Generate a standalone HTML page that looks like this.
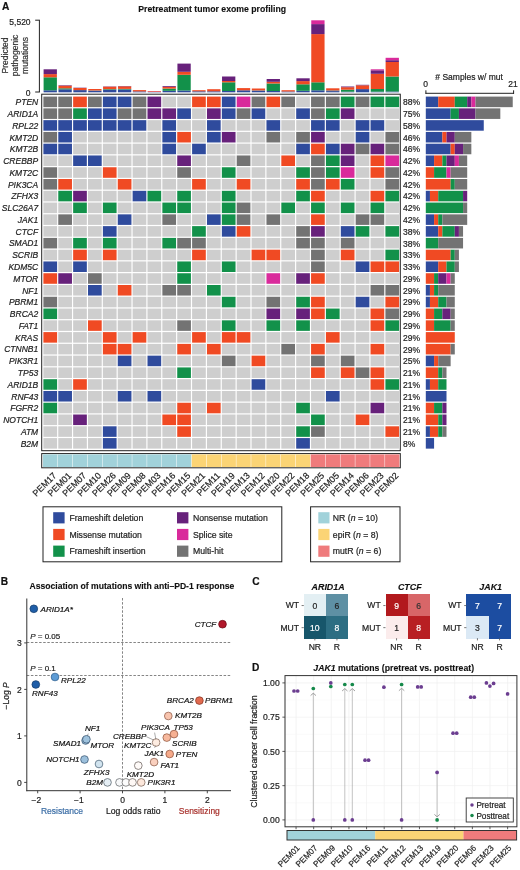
<!DOCTYPE html>
<html lang="en"><head><meta charset="utf-8"><title>Figure</title>
<style>
html,body{margin:0;padding:0;background:#fff;}
body{width:520px;height:870px;overflow:hidden;font-family:"Liberation Sans", sans-serif;}
svg{display:block;font-family:"Liberation Sans", sans-serif;}
</style></head><body>
<svg width="520" height="870" viewBox="0 0 520 870">
<rect x="0" y="0" width="520" height="870" fill="#ffffff"/>
<text x="2.10" y="9.85" font-size="10.2" text-anchor="start" fill="#111" stroke="#111" stroke-width="0.2" font-weight="bold" font-style="normal" >A</text>
<text x="212.20" y="12.30" font-size="8.7" text-anchor="middle" fill="#111" stroke="#111" stroke-width="0.12" font-weight="bold" font-style="normal" >Pretreatment tumor exome profiling</text>
<line x1="39.40" y1="20.20" x2="39.40" y2="92.00" stroke="#222" stroke-width="1" />
<line x1="35.20" y1="20.20" x2="39.90" y2="20.20" stroke="#222" stroke-width="1" />
<line x1="35.20" y1="92.00" x2="39.90" y2="92.00" stroke="#222" stroke-width="1" />
<text x="30.60" y="24.80" font-size="8.5" text-anchor="end" fill="#222" stroke="#222" stroke-width="0.2" font-weight="normal" font-style="normal" >5,520</text>
<text x="30.60" y="96.00" font-size="8.5" text-anchor="end" fill="#222" stroke="#222" stroke-width="0.2" font-weight="normal" font-style="normal" >0</text>
<text x="0.00" y="0.00" font-size="8.5" text-anchor="middle" fill="#333" stroke="#333" stroke-width="0.2" font-weight="normal" font-style="normal" transform="translate(8.2,55.5) rotate(-90)">Predicted</text>
<text x="0.00" y="0.00" font-size="8.5" text-anchor="middle" fill="#333" stroke="#333" stroke-width="0.2" font-weight="normal" font-style="normal" transform="translate(18.4,55.5) rotate(-90)">pathogenic</text>
<text x="0.00" y="0.00" font-size="8.5" text-anchor="middle" fill="#333" stroke="#333" stroke-width="0.2" font-weight="normal" font-style="normal" transform="translate(27.6,55.5) rotate(-90)">mutations</text>
<rect x="43.60" y="90.30" width="13.30" height="2.00" fill="#2f4b9d" />
<rect x="43.60" y="77.30" width="13.30" height="13.00" fill="#12914a" />
<rect x="43.60" y="74.10" width="13.30" height="3.20" fill="#f04a23" />
<rect x="43.60" y="69.30" width="13.30" height="4.80" fill="#67217b" />
<rect x="58.47" y="89.30" width="13.30" height="3.00" fill="#2f4b9d" />
<rect x="58.47" y="88.30" width="13.30" height="1.00" fill="#12914a" />
<rect x="58.47" y="85.70" width="13.30" height="2.60" fill="#f04a23" />
<rect x="58.47" y="85.20" width="13.30" height="0.50" fill="#67217b" />
<rect x="73.34" y="90.10" width="13.30" height="2.20" fill="#2f4b9d" />
<rect x="73.34" y="88.00" width="13.30" height="2.10" fill="#f04a23" />
<rect x="73.34" y="87.70" width="13.30" height="0.30" fill="#67217b" />
<rect x="88.21" y="90.90" width="13.30" height="1.40" fill="#2f4b9d" />
<rect x="88.21" y="90.40" width="13.30" height="0.50" fill="#737373" />
<rect x="88.21" y="89.00" width="13.30" height="1.40" fill="#f04a23" />
<rect x="103.08" y="89.70" width="13.30" height="2.60" fill="#2f4b9d" />
<rect x="103.08" y="89.10" width="13.30" height="0.60" fill="#12914a" />
<rect x="103.08" y="86.70" width="13.30" height="2.40" fill="#f04a23" />
<rect x="103.08" y="86.40" width="13.30" height="0.30" fill="#67217b" />
<rect x="117.95" y="89.50" width="13.30" height="2.80" fill="#2f4b9d" />
<rect x="117.95" y="88.90" width="13.30" height="0.60" fill="#12914a" />
<rect x="117.95" y="86.30" width="13.30" height="2.60" fill="#f04a23" />
<rect x="117.95" y="86.00" width="13.30" height="0.30" fill="#67217b" />
<rect x="132.82" y="91.40" width="13.30" height="0.90" fill="#2f4b9d" />
<rect x="132.82" y="90.10" width="13.30" height="1.30" fill="#f04a23" />
<rect x="147.69" y="91.90" width="13.30" height="0.40" fill="#2f4b9d" />
<rect x="147.69" y="91.20" width="13.30" height="0.70" fill="#f04a23" />
<rect x="147.69" y="91.00" width="13.30" height="0.20" fill="#d92a9b" />
<rect x="162.56" y="90.80" width="13.30" height="1.50" fill="#2f4b9d" />
<rect x="162.56" y="88.60" width="13.30" height="2.20" fill="#12914a" />
<rect x="162.56" y="86.80" width="13.30" height="1.80" fill="#f04a23" />
<rect x="162.56" y="86.00" width="13.30" height="0.80" fill="#67217b" />
<rect x="177.43" y="90.50" width="13.30" height="1.80" fill="#2f4b9d" />
<rect x="177.43" y="74.80" width="13.30" height="15.70" fill="#12914a" />
<rect x="177.43" y="71.80" width="13.30" height="3.00" fill="#f04a23" />
<rect x="177.43" y="63.60" width="13.30" height="8.20" fill="#67217b" />
<rect x="192.30" y="91.30" width="13.30" height="1.00" fill="#2f4b9d" />
<rect x="192.30" y="90.20" width="13.30" height="1.10" fill="#f04a23" />
<rect x="207.17" y="91.30" width="13.30" height="1.00" fill="#2f4b9d" />
<rect x="207.17" y="89.20" width="13.30" height="2.10" fill="#f04a23" />
<rect x="222.04" y="91.00" width="13.30" height="1.30" fill="#2f4b9d" />
<rect x="222.04" y="82.30" width="13.30" height="8.70" fill="#12914a" />
<rect x="222.04" y="81.00" width="13.30" height="1.30" fill="#f04a23" />
<rect x="222.04" y="76.50" width="13.30" height="4.50" fill="#67217b" />
<rect x="236.91" y="90.30" width="13.30" height="2.00" fill="#2f4b9d" />
<rect x="236.91" y="88.10" width="13.30" height="2.20" fill="#f04a23" />
<rect x="251.78" y="90.90" width="13.30" height="1.40" fill="#2f4b9d" />
<rect x="251.78" y="90.30" width="13.30" height="0.60" fill="#737373" />
<rect x="251.78" y="88.50" width="13.30" height="1.80" fill="#f04a23" />
<rect x="266.65" y="91.00" width="13.30" height="1.30" fill="#2f4b9d" />
<rect x="266.65" y="83.50" width="13.30" height="7.50" fill="#12914a" />
<rect x="266.65" y="81.80" width="13.30" height="1.70" fill="#f04a23" />
<rect x="266.65" y="79.00" width="13.30" height="2.80" fill="#67217b" />
<rect x="281.52" y="91.50" width="13.30" height="0.80" fill="#2f4b9d" />
<rect x="281.52" y="90.20" width="13.30" height="1.30" fill="#f04a23" />
<rect x="296.39" y="90.80" width="13.30" height="1.50" fill="#2f4b9d" />
<rect x="296.39" y="84.30" width="13.30" height="6.50" fill="#12914a" />
<rect x="296.39" y="81.10" width="13.30" height="3.20" fill="#f04a23" />
<rect x="296.39" y="78.30" width="13.30" height="2.80" fill="#67217b" />
<rect x="311.26" y="90.30" width="13.30" height="2.00" fill="#2f4b9d" />
<rect x="311.26" y="82.30" width="13.30" height="8.00" fill="#12914a" />
<rect x="311.26" y="34.10" width="13.30" height="48.20" fill="#f04a23" />
<rect x="311.26" y="24.10" width="13.30" height="10.00" fill="#67217b" />
<rect x="311.26" y="20.30" width="13.30" height="3.80" fill="#d92a9b" />
<rect x="326.13" y="91.10" width="13.30" height="1.20" fill="#2f4b9d" />
<rect x="326.13" y="90.30" width="13.30" height="0.80" fill="#737373" />
<rect x="326.13" y="88.30" width="13.30" height="2.00" fill="#f04a23" />
<rect x="341.00" y="91.70" width="13.30" height="0.60" fill="#2f4b9d" />
<rect x="341.00" y="89.70" width="13.30" height="2.00" fill="#12914a" />
<rect x="341.00" y="87.20" width="13.30" height="2.50" fill="#f04a23" />
<rect x="341.00" y="86.50" width="13.30" height="0.70" fill="#67217b" />
<rect x="355.87" y="89.10" width="13.30" height="3.20" fill="#2f4b9d" />
<rect x="355.87" y="85.30" width="13.30" height="3.80" fill="#f04a23" />
<rect x="355.87" y="84.80" width="13.30" height="0.50" fill="#67217b" />
<rect x="370.74" y="91.70" width="13.30" height="0.60" fill="#2f4b9d" />
<rect x="370.74" y="89.00" width="13.30" height="2.70" fill="#12914a" />
<rect x="370.74" y="73.80" width="13.30" height="15.20" fill="#f04a23" />
<rect x="370.74" y="70.30" width="13.30" height="3.50" fill="#67217b" />
<rect x="370.74" y="69.30" width="13.30" height="1.00" fill="#d92a9b" />
<rect x="385.61" y="91.50" width="13.30" height="0.80" fill="#2f4b9d" />
<rect x="385.61" y="76.50" width="13.30" height="15.00" fill="#12914a" />
<rect x="385.61" y="62.00" width="13.30" height="14.50" fill="#f04a23" />
<rect x="385.61" y="60.20" width="13.30" height="1.80" fill="#67217b" />
<rect x="385.61" y="57.80" width="13.30" height="2.40" fill="#d92a9b" />
<rect x="41.70" y="94.20" width="358.60" height="356.50" fill="#fff" stroke="#222" stroke-width="1"/>
<text x="38.20" y="105.17" font-size="8.5" text-anchor="end" fill="#222" stroke="#222" stroke-width="0.2" font-weight="normal" font-style="italic" >PTEN</text>
<text x="403.00" y="105.28" font-size="8.5" text-anchor="start" fill="#222" stroke="#222" stroke-width="0.2" font-weight="normal" font-style="normal" >88%</text>
<rect x="43.40" y="96.60" width="13.70" height="10.55" fill="#737373" />
<rect x="58.27" y="96.60" width="13.70" height="10.55" fill="#737373" />
<rect x="73.14" y="96.60" width="13.70" height="10.55" fill="#f04a23" />
<rect x="88.01" y="96.60" width="13.70" height="10.55" fill="#737373" />
<rect x="102.88" y="96.60" width="13.70" height="10.55" fill="#2f4b9d" />
<rect x="117.75" y="96.60" width="13.70" height="10.55" fill="#2f4b9d" />
<rect x="132.62" y="96.60" width="13.70" height="10.55" fill="#737373" />
<rect x="147.49" y="96.60" width="13.70" height="10.55" fill="#67217b" />
<rect x="162.36" y="96.60" width="13.70" height="10.55" fill="#cecece" />
<rect x="177.23" y="96.60" width="13.70" height="10.55" fill="#cecece" />
<rect x="192.10" y="96.60" width="13.70" height="10.55" fill="#f04a23" />
<rect x="206.97" y="96.60" width="13.70" height="10.55" fill="#f04a23" />
<rect x="221.84" y="96.60" width="13.70" height="10.55" fill="#2f4b9d" />
<rect x="236.71" y="96.60" width="13.70" height="10.55" fill="#d92a9b" />
<rect x="251.58" y="96.60" width="13.70" height="10.55" fill="#737373" />
<rect x="266.45" y="96.60" width="13.70" height="10.55" fill="#f04a23" />
<rect x="281.32" y="96.60" width="13.70" height="10.55" fill="#737373" />
<rect x="296.19" y="96.60" width="13.70" height="10.55" fill="#cecece" />
<rect x="311.06" y="96.60" width="13.70" height="10.55" fill="#737373" />
<rect x="325.93" y="96.60" width="13.70" height="10.55" fill="#737373" />
<rect x="340.80" y="96.60" width="13.70" height="10.55" fill="#12914a" />
<rect x="355.67" y="96.60" width="13.70" height="10.55" fill="#737373" />
<rect x="370.54" y="96.60" width="13.70" height="10.55" fill="#12914a" />
<rect x="385.41" y="96.60" width="13.70" height="10.55" fill="#12914a" />
<rect x="425.80" y="96.60" width="12.42" height="10.55" fill="#2f4b9d" />
<rect x="438.22" y="96.60" width="16.56" height="10.55" fill="#f04a23" />
<rect x="454.78" y="96.60" width="12.42" height="10.55" fill="#12914a" />
<rect x="467.20" y="96.60" width="4.14" height="10.55" fill="#67217b" />
<rect x="471.34" y="96.60" width="4.14" height="10.55" fill="#d92a9b" />
<rect x="475.48" y="96.60" width="37.26" height="10.55" fill="#737373" />
<text x="38.20" y="116.95" font-size="8.5" text-anchor="end" fill="#222" stroke="#222" stroke-width="0.2" font-weight="normal" font-style="italic" >ARID1A</text>
<text x="403.00" y="117.05" font-size="8.5" text-anchor="start" fill="#222" stroke="#222" stroke-width="0.2" font-weight="normal" font-style="normal" >75%</text>
<rect x="43.40" y="108.38" width="13.70" height="10.55" fill="#737373" />
<rect x="58.27" y="108.38" width="13.70" height="10.55" fill="#737373" />
<rect x="73.14" y="108.38" width="13.70" height="10.55" fill="#12914a" />
<rect x="88.01" y="108.38" width="13.70" height="10.55" fill="#2f4b9d" />
<rect x="102.88" y="108.38" width="13.70" height="10.55" fill="#2f4b9d" />
<rect x="117.75" y="108.38" width="13.70" height="10.55" fill="#737373" />
<rect x="132.62" y="108.38" width="13.70" height="10.55" fill="#737373" />
<rect x="147.49" y="108.38" width="13.70" height="10.55" fill="#67217b" />
<rect x="162.36" y="108.38" width="13.70" height="10.55" fill="#67217b" />
<rect x="177.23" y="108.38" width="13.70" height="10.55" fill="#2f4b9d" />
<rect x="192.10" y="108.38" width="13.70" height="10.55" fill="#cecece" />
<rect x="206.97" y="108.38" width="13.70" height="10.55" fill="#67217b" />
<rect x="221.84" y="108.38" width="13.70" height="10.55" fill="#2f4b9d" />
<rect x="236.71" y="108.38" width="13.70" height="10.55" fill="#737373" />
<rect x="251.58" y="108.38" width="13.70" height="10.55" fill="#2f4b9d" />
<rect x="266.45" y="108.38" width="13.70" height="10.55" fill="#cecece" />
<rect x="281.32" y="108.38" width="13.70" height="10.55" fill="#cecece" />
<rect x="296.19" y="108.38" width="13.70" height="10.55" fill="#2f4b9d" />
<rect x="311.06" y="108.38" width="13.70" height="10.55" fill="#737373" />
<rect x="325.93" y="108.38" width="13.70" height="10.55" fill="#12914a" />
<rect x="340.80" y="108.38" width="13.70" height="10.55" fill="#67217b" />
<rect x="355.67" y="108.38" width="13.70" height="10.55" fill="#cecece" />
<rect x="370.54" y="108.38" width="13.70" height="10.55" fill="#cecece" />
<rect x="385.41" y="108.38" width="13.70" height="10.55" fill="#cecece" />
<rect x="425.80" y="108.38" width="24.84" height="10.55" fill="#2f4b9d" />
<rect x="450.64" y="108.38" width="8.28" height="10.55" fill="#12914a" />
<rect x="458.92" y="108.38" width="16.56" height="10.55" fill="#67217b" />
<rect x="475.48" y="108.38" width="24.84" height="10.55" fill="#737373" />
<text x="38.20" y="128.72" font-size="8.5" text-anchor="end" fill="#222" stroke="#222" stroke-width="0.2" font-weight="normal" font-style="italic" >RPL22</text>
<text x="403.00" y="128.82" font-size="8.5" text-anchor="start" fill="#222" stroke="#222" stroke-width="0.2" font-weight="normal" font-style="normal" >58%</text>
<rect x="43.40" y="120.15" width="13.70" height="10.55" fill="#2f4b9d" />
<rect x="58.27" y="120.15" width="13.70" height="10.55" fill="#2f4b9d" />
<rect x="73.14" y="120.15" width="13.70" height="10.55" fill="#2f4b9d" />
<rect x="88.01" y="120.15" width="13.70" height="10.55" fill="#2f4b9d" />
<rect x="102.88" y="120.15" width="13.70" height="10.55" fill="#2f4b9d" />
<rect x="117.75" y="120.15" width="13.70" height="10.55" fill="#2f4b9d" />
<rect x="132.62" y="120.15" width="13.70" height="10.55" fill="#2f4b9d" />
<rect x="147.49" y="120.15" width="13.70" height="10.55" fill="#cecece" />
<rect x="162.36" y="120.15" width="13.70" height="10.55" fill="#2f4b9d" />
<rect x="177.23" y="120.15" width="13.70" height="10.55" fill="#cecece" />
<rect x="192.10" y="120.15" width="13.70" height="10.55" fill="#cecece" />
<rect x="206.97" y="120.15" width="13.70" height="10.55" fill="#2f4b9d" />
<rect x="221.84" y="120.15" width="13.70" height="10.55" fill="#cecece" />
<rect x="236.71" y="120.15" width="13.70" height="10.55" fill="#cecece" />
<rect x="251.58" y="120.15" width="13.70" height="10.55" fill="#cecece" />
<rect x="266.45" y="120.15" width="13.70" height="10.55" fill="#2f4b9d" />
<rect x="281.32" y="120.15" width="13.70" height="10.55" fill="#cecece" />
<rect x="296.19" y="120.15" width="13.70" height="10.55" fill="#cecece" />
<rect x="311.06" y="120.15" width="13.70" height="10.55" fill="#2f4b9d" />
<rect x="325.93" y="120.15" width="13.70" height="10.55" fill="#2f4b9d" />
<rect x="340.80" y="120.15" width="13.70" height="10.55" fill="#cecece" />
<rect x="355.67" y="120.15" width="13.70" height="10.55" fill="#2f4b9d" />
<rect x="370.54" y="120.15" width="13.70" height="10.55" fill="#2f4b9d" />
<rect x="385.41" y="120.15" width="13.70" height="10.55" fill="#cecece" />
<rect x="425.80" y="120.15" width="57.96" height="10.55" fill="#2f4b9d" />
<text x="38.20" y="140.50" font-size="8.5" text-anchor="end" fill="#222" stroke="#222" stroke-width="0.2" font-weight="normal" font-style="italic" >KMT2D</text>
<text x="403.00" y="140.60" font-size="8.5" text-anchor="start" fill="#222" stroke="#222" stroke-width="0.2" font-weight="normal" font-style="normal" >46%</text>
<rect x="43.40" y="131.93" width="13.70" height="10.55" fill="#737373" />
<rect x="58.27" y="131.93" width="13.70" height="10.55" fill="#2f4b9d" />
<rect x="73.14" y="131.93" width="13.70" height="10.55" fill="#cecece" />
<rect x="88.01" y="131.93" width="13.70" height="10.55" fill="#cecece" />
<rect x="102.88" y="131.93" width="13.70" height="10.55" fill="#cecece" />
<rect x="117.75" y="131.93" width="13.70" height="10.55" fill="#cecece" />
<rect x="132.62" y="131.93" width="13.70" height="10.55" fill="#cecece" />
<rect x="147.49" y="131.93" width="13.70" height="10.55" fill="#cecece" />
<rect x="162.36" y="131.93" width="13.70" height="10.55" fill="#2f4b9d" />
<rect x="177.23" y="131.93" width="13.70" height="10.55" fill="#f04a23" />
<rect x="192.10" y="131.93" width="13.70" height="10.55" fill="#cecece" />
<rect x="206.97" y="131.93" width="13.70" height="10.55" fill="#2f4b9d" />
<rect x="221.84" y="131.93" width="13.70" height="10.55" fill="#67217b" />
<rect x="236.71" y="131.93" width="13.70" height="10.55" fill="#cecece" />
<rect x="251.58" y="131.93" width="13.70" height="10.55" fill="#cecece" />
<rect x="266.45" y="131.93" width="13.70" height="10.55" fill="#737373" />
<rect x="281.32" y="131.93" width="13.70" height="10.55" fill="#cecece" />
<rect x="296.19" y="131.93" width="13.70" height="10.55" fill="#737373" />
<rect x="311.06" y="131.93" width="13.70" height="10.55" fill="#67217b" />
<rect x="325.93" y="131.93" width="13.70" height="10.55" fill="#cecece" />
<rect x="340.80" y="131.93" width="13.70" height="10.55" fill="#cecece" />
<rect x="355.67" y="131.93" width="13.70" height="10.55" fill="#2f4b9d" />
<rect x="370.54" y="131.93" width="13.70" height="10.55" fill="#cecece" />
<rect x="385.41" y="131.93" width="13.70" height="10.55" fill="#737373" />
<rect x="425.80" y="131.93" width="16.56" height="10.55" fill="#2f4b9d" />
<rect x="442.36" y="131.93" width="4.14" height="10.55" fill="#f04a23" />
<rect x="446.50" y="131.93" width="8.28" height="10.55" fill="#67217b" />
<rect x="454.78" y="131.93" width="16.56" height="10.55" fill="#737373" />
<text x="38.20" y="152.28" font-size="8.5" text-anchor="end" fill="#222" stroke="#222" stroke-width="0.2" font-weight="normal" font-style="italic" >KMT2B</text>
<text x="403.00" y="152.38" font-size="8.5" text-anchor="start" fill="#222" stroke="#222" stroke-width="0.2" font-weight="normal" font-style="normal" >46%</text>
<rect x="43.40" y="143.70" width="13.70" height="10.55" fill="#2f4b9d" />
<rect x="58.27" y="143.70" width="13.70" height="10.55" fill="#2f4b9d" />
<rect x="73.14" y="143.70" width="13.70" height="10.55" fill="#cecece" />
<rect x="88.01" y="143.70" width="13.70" height="10.55" fill="#cecece" />
<rect x="102.88" y="143.70" width="13.70" height="10.55" fill="#cecece" />
<rect x="117.75" y="143.70" width="13.70" height="10.55" fill="#cecece" />
<rect x="132.62" y="143.70" width="13.70" height="10.55" fill="#cecece" />
<rect x="147.49" y="143.70" width="13.70" height="10.55" fill="#cecece" />
<rect x="162.36" y="143.70" width="13.70" height="10.55" fill="#2f4b9d" />
<rect x="177.23" y="143.70" width="13.70" height="10.55" fill="#cecece" />
<rect x="192.10" y="143.70" width="13.70" height="10.55" fill="#2f4b9d" />
<rect x="206.97" y="143.70" width="13.70" height="10.55" fill="#cecece" />
<rect x="221.84" y="143.70" width="13.70" height="10.55" fill="#cecece" />
<rect x="236.71" y="143.70" width="13.70" height="10.55" fill="#cecece" />
<rect x="251.58" y="143.70" width="13.70" height="10.55" fill="#cecece" />
<rect x="266.45" y="143.70" width="13.70" height="10.55" fill="#cecece" />
<rect x="281.32" y="143.70" width="13.70" height="10.55" fill="#cecece" />
<rect x="296.19" y="143.70" width="13.70" height="10.55" fill="#2f4b9d" />
<rect x="311.06" y="143.70" width="13.70" height="10.55" fill="#f04a23" />
<rect x="325.93" y="143.70" width="13.70" height="10.55" fill="#2f4b9d" />
<rect x="340.80" y="143.70" width="13.70" height="10.55" fill="#67217b" />
<rect x="355.67" y="143.70" width="13.70" height="10.55" fill="#737373" />
<rect x="370.54" y="143.70" width="13.70" height="10.55" fill="#67217b" />
<rect x="385.41" y="143.70" width="13.70" height="10.55" fill="#737373" />
<rect x="425.80" y="143.70" width="24.84" height="10.55" fill="#2f4b9d" />
<rect x="450.64" y="143.70" width="4.14" height="10.55" fill="#f04a23" />
<rect x="454.78" y="143.70" width="8.28" height="10.55" fill="#67217b" />
<rect x="463.06" y="143.70" width="8.28" height="10.55" fill="#737373" />
<text x="38.20" y="164.05" font-size="8.5" text-anchor="end" fill="#222" stroke="#222" stroke-width="0.2" font-weight="normal" font-style="italic" >CREBBP</text>
<text x="403.00" y="164.15" font-size="8.5" text-anchor="start" fill="#222" stroke="#222" stroke-width="0.2" font-weight="normal" font-style="normal" >42%</text>
<rect x="43.40" y="155.47" width="13.70" height="10.55" fill="#cecece" />
<rect x="58.27" y="155.47" width="13.70" height="10.55" fill="#cecece" />
<rect x="73.14" y="155.47" width="13.70" height="10.55" fill="#2f4b9d" />
<rect x="88.01" y="155.47" width="13.70" height="10.55" fill="#2f4b9d" />
<rect x="102.88" y="155.47" width="13.70" height="10.55" fill="#cecece" />
<rect x="117.75" y="155.47" width="13.70" height="10.55" fill="#cecece" />
<rect x="132.62" y="155.47" width="13.70" height="10.55" fill="#cecece" />
<rect x="147.49" y="155.47" width="13.70" height="10.55" fill="#cecece" />
<rect x="162.36" y="155.47" width="13.70" height="10.55" fill="#cecece" />
<rect x="177.23" y="155.47" width="13.70" height="10.55" fill="#67217b" />
<rect x="192.10" y="155.47" width="13.70" height="10.55" fill="#cecece" />
<rect x="206.97" y="155.47" width="13.70" height="10.55" fill="#cecece" />
<rect x="221.84" y="155.47" width="13.70" height="10.55" fill="#cecece" />
<rect x="236.71" y="155.47" width="13.70" height="10.55" fill="#737373" />
<rect x="251.58" y="155.47" width="13.70" height="10.55" fill="#cecece" />
<rect x="266.45" y="155.47" width="13.70" height="10.55" fill="#cecece" />
<rect x="281.32" y="155.47" width="13.70" height="10.55" fill="#f04a23" />
<rect x="296.19" y="155.47" width="13.70" height="10.55" fill="#cecece" />
<rect x="311.06" y="155.47" width="13.70" height="10.55" fill="#737373" />
<rect x="325.93" y="155.47" width="13.70" height="10.55" fill="#12914a" />
<rect x="340.80" y="155.47" width="13.70" height="10.55" fill="#67217b" />
<rect x="355.67" y="155.47" width="13.70" height="10.55" fill="#cecece" />
<rect x="370.54" y="155.47" width="13.70" height="10.55" fill="#f04a23" />
<rect x="385.41" y="155.47" width="13.70" height="10.55" fill="#d92a9b" />
<rect x="425.80" y="155.47" width="8.28" height="10.55" fill="#2f4b9d" />
<rect x="434.08" y="155.47" width="8.28" height="10.55" fill="#f04a23" />
<rect x="442.36" y="155.47" width="4.14" height="10.55" fill="#12914a" />
<rect x="446.50" y="155.47" width="8.28" height="10.55" fill="#67217b" />
<rect x="454.78" y="155.47" width="4.14" height="10.55" fill="#d92a9b" />
<rect x="458.92" y="155.47" width="8.28" height="10.55" fill="#737373" />
<text x="38.20" y="175.83" font-size="8.5" text-anchor="end" fill="#222" stroke="#222" stroke-width="0.2" font-weight="normal" font-style="italic" >KMT2C</text>
<text x="403.00" y="175.93" font-size="8.5" text-anchor="start" fill="#222" stroke="#222" stroke-width="0.2" font-weight="normal" font-style="normal" >42%</text>
<rect x="43.40" y="167.25" width="13.70" height="10.55" fill="#737373" />
<rect x="58.27" y="167.25" width="13.70" height="10.55" fill="#cecece" />
<rect x="73.14" y="167.25" width="13.70" height="10.55" fill="#cecece" />
<rect x="88.01" y="167.25" width="13.70" height="10.55" fill="#cecece" />
<rect x="102.88" y="167.25" width="13.70" height="10.55" fill="#f04a23" />
<rect x="117.75" y="167.25" width="13.70" height="10.55" fill="#cecece" />
<rect x="132.62" y="167.25" width="13.70" height="10.55" fill="#cecece" />
<rect x="147.49" y="167.25" width="13.70" height="10.55" fill="#cecece" />
<rect x="162.36" y="167.25" width="13.70" height="10.55" fill="#cecece" />
<rect x="177.23" y="167.25" width="13.70" height="10.55" fill="#737373" />
<rect x="192.10" y="167.25" width="13.70" height="10.55" fill="#cecece" />
<rect x="206.97" y="167.25" width="13.70" height="10.55" fill="#cecece" />
<rect x="221.84" y="167.25" width="13.70" height="10.55" fill="#12914a" />
<rect x="236.71" y="167.25" width="13.70" height="10.55" fill="#cecece" />
<rect x="251.58" y="167.25" width="13.70" height="10.55" fill="#cecece" />
<rect x="266.45" y="167.25" width="13.70" height="10.55" fill="#cecece" />
<rect x="281.32" y="167.25" width="13.70" height="10.55" fill="#cecece" />
<rect x="296.19" y="167.25" width="13.70" height="10.55" fill="#12914a" />
<rect x="311.06" y="167.25" width="13.70" height="10.55" fill="#737373" />
<rect x="325.93" y="167.25" width="13.70" height="10.55" fill="#12914a" />
<rect x="340.80" y="167.25" width="13.70" height="10.55" fill="#d92a9b" />
<rect x="355.67" y="167.25" width="13.70" height="10.55" fill="#cecece" />
<rect x="370.54" y="167.25" width="13.70" height="10.55" fill="#f04a23" />
<rect x="385.41" y="167.25" width="13.70" height="10.55" fill="#737373" />
<rect x="425.80" y="167.25" width="8.28" height="10.55" fill="#f04a23" />
<rect x="434.08" y="167.25" width="12.42" height="10.55" fill="#12914a" />
<rect x="446.50" y="167.25" width="4.14" height="10.55" fill="#d92a9b" />
<rect x="450.64" y="167.25" width="16.56" height="10.55" fill="#737373" />
<text x="38.20" y="187.60" font-size="8.5" text-anchor="end" fill="#222" stroke="#222" stroke-width="0.2" font-weight="normal" font-style="italic" >PIK3CA</text>
<text x="403.00" y="187.70" font-size="8.5" text-anchor="start" fill="#222" stroke="#222" stroke-width="0.2" font-weight="normal" font-style="normal" >42%</text>
<rect x="43.40" y="179.02" width="13.70" height="10.55" fill="#737373" />
<rect x="58.27" y="179.02" width="13.70" height="10.55" fill="#f04a23" />
<rect x="73.14" y="179.02" width="13.70" height="10.55" fill="#cecece" />
<rect x="88.01" y="179.02" width="13.70" height="10.55" fill="#cecece" />
<rect x="102.88" y="179.02" width="13.70" height="10.55" fill="#cecece" />
<rect x="117.75" y="179.02" width="13.70" height="10.55" fill="#f04a23" />
<rect x="132.62" y="179.02" width="13.70" height="10.55" fill="#cecece" />
<rect x="147.49" y="179.02" width="13.70" height="10.55" fill="#cecece" />
<rect x="162.36" y="179.02" width="13.70" height="10.55" fill="#cecece" />
<rect x="177.23" y="179.02" width="13.70" height="10.55" fill="#cecece" />
<rect x="192.10" y="179.02" width="13.70" height="10.55" fill="#f04a23" />
<rect x="206.97" y="179.02" width="13.70" height="10.55" fill="#cecece" />
<rect x="221.84" y="179.02" width="13.70" height="10.55" fill="#cecece" />
<rect x="236.71" y="179.02" width="13.70" height="10.55" fill="#f04a23" />
<rect x="251.58" y="179.02" width="13.70" height="10.55" fill="#cecece" />
<rect x="266.45" y="179.02" width="13.70" height="10.55" fill="#cecece" />
<rect x="281.32" y="179.02" width="13.70" height="10.55" fill="#cecece" />
<rect x="296.19" y="179.02" width="13.70" height="10.55" fill="#f04a23" />
<rect x="311.06" y="179.02" width="13.70" height="10.55" fill="#737373" />
<rect x="325.93" y="179.02" width="13.70" height="10.55" fill="#f04a23" />
<rect x="340.80" y="179.02" width="13.70" height="10.55" fill="#12914a" />
<rect x="355.67" y="179.02" width="13.70" height="10.55" fill="#cecece" />
<rect x="370.54" y="179.02" width="13.70" height="10.55" fill="#cecece" />
<rect x="385.41" y="179.02" width="13.70" height="10.55" fill="#737373" />
<rect x="425.80" y="179.02" width="24.84" height="10.55" fill="#f04a23" />
<rect x="450.64" y="179.02" width="4.14" height="10.55" fill="#12914a" />
<rect x="454.78" y="179.02" width="12.42" height="10.55" fill="#737373" />
<text x="38.20" y="199.38" font-size="8.5" text-anchor="end" fill="#222" stroke="#222" stroke-width="0.2" font-weight="normal" font-style="italic" >ZFHX3</text>
<text x="403.00" y="199.48" font-size="8.5" text-anchor="start" fill="#222" stroke="#222" stroke-width="0.2" font-weight="normal" font-style="normal" >42%</text>
<rect x="43.40" y="190.80" width="13.70" height="10.55" fill="#cecece" />
<rect x="58.27" y="190.80" width="13.70" height="10.55" fill="#12914a" />
<rect x="73.14" y="190.80" width="13.70" height="10.55" fill="#67217b" />
<rect x="88.01" y="190.80" width="13.70" height="10.55" fill="#cecece" />
<rect x="102.88" y="190.80" width="13.70" height="10.55" fill="#cecece" />
<rect x="117.75" y="190.80" width="13.70" height="10.55" fill="#cecece" />
<rect x="132.62" y="190.80" width="13.70" height="10.55" fill="#2f4b9d" />
<rect x="147.49" y="190.80" width="13.70" height="10.55" fill="#12914a" />
<rect x="162.36" y="190.80" width="13.70" height="10.55" fill="#cecece" />
<rect x="177.23" y="190.80" width="13.70" height="10.55" fill="#12914a" />
<rect x="192.10" y="190.80" width="13.70" height="10.55" fill="#cecece" />
<rect x="206.97" y="190.80" width="13.70" height="10.55" fill="#cecece" />
<rect x="221.84" y="190.80" width="13.70" height="10.55" fill="#12914a" />
<rect x="236.71" y="190.80" width="13.70" height="10.55" fill="#cecece" />
<rect x="251.58" y="190.80" width="13.70" height="10.55" fill="#cecece" />
<rect x="266.45" y="190.80" width="13.70" height="10.55" fill="#cecece" />
<rect x="281.32" y="190.80" width="13.70" height="10.55" fill="#cecece" />
<rect x="296.19" y="190.80" width="13.70" height="10.55" fill="#12914a" />
<rect x="311.06" y="190.80" width="13.70" height="10.55" fill="#f04a23" />
<rect x="325.93" y="190.80" width="13.70" height="10.55" fill="#cecece" />
<rect x="340.80" y="190.80" width="13.70" height="10.55" fill="#cecece" />
<rect x="355.67" y="190.80" width="13.70" height="10.55" fill="#cecece" />
<rect x="370.54" y="190.80" width="13.70" height="10.55" fill="#f04a23" />
<rect x="385.41" y="190.80" width="13.70" height="10.55" fill="#12914a" />
<rect x="425.80" y="190.80" width="4.14" height="10.55" fill="#2f4b9d" />
<rect x="429.94" y="190.80" width="8.28" height="10.55" fill="#f04a23" />
<rect x="438.22" y="190.80" width="24.84" height="10.55" fill="#12914a" />
<rect x="463.06" y="190.80" width="4.14" height="10.55" fill="#67217b" />
<text x="38.20" y="211.15" font-size="8.5" text-anchor="end" fill="#222" stroke="#222" stroke-width="0.2" font-weight="normal" font-style="italic" >SLC26A7</text>
<text x="403.00" y="211.25" font-size="8.5" text-anchor="start" fill="#222" stroke="#222" stroke-width="0.2" font-weight="normal" font-style="normal" >42%</text>
<rect x="43.40" y="202.57" width="13.70" height="10.55" fill="#cecece" />
<rect x="58.27" y="202.57" width="13.70" height="10.55" fill="#cecece" />
<rect x="73.14" y="202.57" width="13.70" height="10.55" fill="#12914a" />
<rect x="88.01" y="202.57" width="13.70" height="10.55" fill="#cecece" />
<rect x="102.88" y="202.57" width="13.70" height="10.55" fill="#12914a" />
<rect x="117.75" y="202.57" width="13.70" height="10.55" fill="#cecece" />
<rect x="132.62" y="202.57" width="13.70" height="10.55" fill="#cecece" />
<rect x="147.49" y="202.57" width="13.70" height="10.55" fill="#cecece" />
<rect x="162.36" y="202.57" width="13.70" height="10.55" fill="#12914a" />
<rect x="177.23" y="202.57" width="13.70" height="10.55" fill="#12914a" />
<rect x="192.10" y="202.57" width="13.70" height="10.55" fill="#cecece" />
<rect x="206.97" y="202.57" width="13.70" height="10.55" fill="#cecece" />
<rect x="221.84" y="202.57" width="13.70" height="10.55" fill="#12914a" />
<rect x="236.71" y="202.57" width="13.70" height="10.55" fill="#737373" />
<rect x="251.58" y="202.57" width="13.70" height="10.55" fill="#cecece" />
<rect x="266.45" y="202.57" width="13.70" height="10.55" fill="#cecece" />
<rect x="281.32" y="202.57" width="13.70" height="10.55" fill="#12914a" />
<rect x="296.19" y="202.57" width="13.70" height="10.55" fill="#cecece" />
<rect x="311.06" y="202.57" width="13.70" height="10.55" fill="#12914a" />
<rect x="325.93" y="202.57" width="13.70" height="10.55" fill="#cecece" />
<rect x="340.80" y="202.57" width="13.70" height="10.55" fill="#12914a" />
<rect x="355.67" y="202.57" width="13.70" height="10.55" fill="#cecece" />
<rect x="370.54" y="202.57" width="13.70" height="10.55" fill="#12914a" />
<rect x="385.41" y="202.57" width="13.70" height="10.55" fill="#cecece" />
<rect x="425.80" y="202.57" width="37.26" height="10.55" fill="#12914a" />
<rect x="463.06" y="202.57" width="4.14" height="10.55" fill="#737373" />
<text x="38.20" y="222.93" font-size="8.5" text-anchor="end" fill="#222" stroke="#222" stroke-width="0.2" font-weight="normal" font-style="italic" >JAK1</text>
<text x="403.00" y="223.03" font-size="8.5" text-anchor="start" fill="#222" stroke="#222" stroke-width="0.2" font-weight="normal" font-style="normal" >42%</text>
<rect x="43.40" y="214.35" width="13.70" height="10.55" fill="#cecece" />
<rect x="58.27" y="214.35" width="13.70" height="10.55" fill="#737373" />
<rect x="73.14" y="214.35" width="13.70" height="10.55" fill="#cecece" />
<rect x="88.01" y="214.35" width="13.70" height="10.55" fill="#cecece" />
<rect x="102.88" y="214.35" width="13.70" height="10.55" fill="#cecece" />
<rect x="117.75" y="214.35" width="13.70" height="10.55" fill="#2f4b9d" />
<rect x="132.62" y="214.35" width="13.70" height="10.55" fill="#cecece" />
<rect x="147.49" y="214.35" width="13.70" height="10.55" fill="#cecece" />
<rect x="162.36" y="214.35" width="13.70" height="10.55" fill="#737373" />
<rect x="177.23" y="214.35" width="13.70" height="10.55" fill="#cecece" />
<rect x="192.10" y="214.35" width="13.70" height="10.55" fill="#cecece" />
<rect x="206.97" y="214.35" width="13.70" height="10.55" fill="#2f4b9d" />
<rect x="221.84" y="214.35" width="13.70" height="10.55" fill="#12914a" />
<rect x="236.71" y="214.35" width="13.70" height="10.55" fill="#737373" />
<rect x="251.58" y="214.35" width="13.70" height="10.55" fill="#cecece" />
<rect x="266.45" y="214.35" width="13.70" height="10.55" fill="#737373" />
<rect x="281.32" y="214.35" width="13.70" height="10.55" fill="#cecece" />
<rect x="296.19" y="214.35" width="13.70" height="10.55" fill="#cecece" />
<rect x="311.06" y="214.35" width="13.70" height="10.55" fill="#f04a23" />
<rect x="325.93" y="214.35" width="13.70" height="10.55" fill="#cecece" />
<rect x="340.80" y="214.35" width="13.70" height="10.55" fill="#cecece" />
<rect x="355.67" y="214.35" width="13.70" height="10.55" fill="#737373" />
<rect x="370.54" y="214.35" width="13.70" height="10.55" fill="#737373" />
<rect x="385.41" y="214.35" width="13.70" height="10.55" fill="#cecece" />
<rect x="425.80" y="214.35" width="8.28" height="10.55" fill="#2f4b9d" />
<rect x="434.08" y="214.35" width="4.14" height="10.55" fill="#f04a23" />
<rect x="438.22" y="214.35" width="4.14" height="10.55" fill="#12914a" />
<rect x="442.36" y="214.35" width="24.84" height="10.55" fill="#737373" />
<text x="38.20" y="234.70" font-size="8.5" text-anchor="end" fill="#222" stroke="#222" stroke-width="0.2" font-weight="normal" font-style="italic" >CTCF</text>
<text x="403.00" y="234.80" font-size="8.5" text-anchor="start" fill="#222" stroke="#222" stroke-width="0.2" font-weight="normal" font-style="normal" >38%</text>
<rect x="43.40" y="226.12" width="13.70" height="10.55" fill="#cecece" />
<rect x="58.27" y="226.12" width="13.70" height="10.55" fill="#cecece" />
<rect x="73.14" y="226.12" width="13.70" height="10.55" fill="#cecece" />
<rect x="88.01" y="226.12" width="13.70" height="10.55" fill="#cecece" />
<rect x="102.88" y="226.12" width="13.70" height="10.55" fill="#2f4b9d" />
<rect x="117.75" y="226.12" width="13.70" height="10.55" fill="#cecece" />
<rect x="132.62" y="226.12" width="13.70" height="10.55" fill="#cecece" />
<rect x="147.49" y="226.12" width="13.70" height="10.55" fill="#cecece" />
<rect x="162.36" y="226.12" width="13.70" height="10.55" fill="#cecece" />
<rect x="177.23" y="226.12" width="13.70" height="10.55" fill="#cecece" />
<rect x="192.10" y="226.12" width="13.70" height="10.55" fill="#12914a" />
<rect x="206.97" y="226.12" width="13.70" height="10.55" fill="#cecece" />
<rect x="221.84" y="226.12" width="13.70" height="10.55" fill="#2f4b9d" />
<rect x="236.71" y="226.12" width="13.70" height="10.55" fill="#f04a23" />
<rect x="251.58" y="226.12" width="13.70" height="10.55" fill="#cecece" />
<rect x="266.45" y="226.12" width="13.70" height="10.55" fill="#cecece" />
<rect x="281.32" y="226.12" width="13.70" height="10.55" fill="#cecece" />
<rect x="296.19" y="226.12" width="13.70" height="10.55" fill="#737373" />
<rect x="311.06" y="226.12" width="13.70" height="10.55" fill="#67217b" />
<rect x="325.93" y="226.12" width="13.70" height="10.55" fill="#cecece" />
<rect x="340.80" y="226.12" width="13.70" height="10.55" fill="#2f4b9d" />
<rect x="355.67" y="226.12" width="13.70" height="10.55" fill="#12914a" />
<rect x="370.54" y="226.12" width="13.70" height="10.55" fill="#cecece" />
<rect x="385.41" y="226.12" width="13.70" height="10.55" fill="#12914a" />
<rect x="425.80" y="226.12" width="12.42" height="10.55" fill="#2f4b9d" />
<rect x="438.22" y="226.12" width="4.14" height="10.55" fill="#f04a23" />
<rect x="442.36" y="226.12" width="12.42" height="10.55" fill="#12914a" />
<rect x="454.78" y="226.12" width="4.14" height="10.55" fill="#67217b" />
<rect x="458.92" y="226.12" width="4.14" height="10.55" fill="#737373" />
<text x="38.20" y="246.48" font-size="8.5" text-anchor="end" fill="#222" stroke="#222" stroke-width="0.2" font-weight="normal" font-style="italic" >SMAD1</text>
<text x="403.00" y="246.58" font-size="8.5" text-anchor="start" fill="#222" stroke="#222" stroke-width="0.2" font-weight="normal" font-style="normal" >38%</text>
<rect x="43.40" y="237.90" width="13.70" height="10.55" fill="#737373" />
<rect x="58.27" y="237.90" width="13.70" height="10.55" fill="#cecece" />
<rect x="73.14" y="237.90" width="13.70" height="10.55" fill="#12914a" />
<rect x="88.01" y="237.90" width="13.70" height="10.55" fill="#cecece" />
<rect x="102.88" y="237.90" width="13.70" height="10.55" fill="#12914a" />
<rect x="117.75" y="237.90" width="13.70" height="10.55" fill="#cecece" />
<rect x="132.62" y="237.90" width="13.70" height="10.55" fill="#cecece" />
<rect x="147.49" y="237.90" width="13.70" height="10.55" fill="#cecece" />
<rect x="162.36" y="237.90" width="13.70" height="10.55" fill="#12914a" />
<rect x="177.23" y="237.90" width="13.70" height="10.55" fill="#737373" />
<rect x="192.10" y="237.90" width="13.70" height="10.55" fill="#737373" />
<rect x="206.97" y="237.90" width="13.70" height="10.55" fill="#cecece" />
<rect x="221.84" y="237.90" width="13.70" height="10.55" fill="#cecece" />
<rect x="236.71" y="237.90" width="13.70" height="10.55" fill="#cecece" />
<rect x="251.58" y="237.90" width="13.70" height="10.55" fill="#cecece" />
<rect x="266.45" y="237.90" width="13.70" height="10.55" fill="#cecece" />
<rect x="281.32" y="237.90" width="13.70" height="10.55" fill="#cecece" />
<rect x="296.19" y="237.90" width="13.70" height="10.55" fill="#737373" />
<rect x="311.06" y="237.90" width="13.70" height="10.55" fill="#737373" />
<rect x="325.93" y="237.90" width="13.70" height="10.55" fill="#cecece" />
<rect x="340.80" y="237.90" width="13.70" height="10.55" fill="#737373" />
<rect x="355.67" y="237.90" width="13.70" height="10.55" fill="#cecece" />
<rect x="370.54" y="237.90" width="13.70" height="10.55" fill="#cecece" />
<rect x="385.41" y="237.90" width="13.70" height="10.55" fill="#cecece" />
<rect x="425.80" y="237.90" width="12.42" height="10.55" fill="#12914a" />
<rect x="438.22" y="237.90" width="24.84" height="10.55" fill="#737373" />
<text x="38.20" y="258.25" font-size="8.5" text-anchor="end" fill="#222" stroke="#222" stroke-width="0.2" font-weight="normal" font-style="italic" >SCRIB</text>
<text x="403.00" y="258.35" font-size="8.5" text-anchor="start" fill="#222" stroke="#222" stroke-width="0.2" font-weight="normal" font-style="normal" >33%</text>
<rect x="43.40" y="249.68" width="13.70" height="10.55" fill="#cecece" />
<rect x="58.27" y="249.68" width="13.70" height="10.55" fill="#cecece" />
<rect x="73.14" y="249.68" width="13.70" height="10.55" fill="#f04a23" />
<rect x="88.01" y="249.68" width="13.70" height="10.55" fill="#cecece" />
<rect x="102.88" y="249.68" width="13.70" height="10.55" fill="#f04a23" />
<rect x="117.75" y="249.68" width="13.70" height="10.55" fill="#cecece" />
<rect x="132.62" y="249.68" width="13.70" height="10.55" fill="#cecece" />
<rect x="147.49" y="249.68" width="13.70" height="10.55" fill="#cecece" />
<rect x="162.36" y="249.68" width="13.70" height="10.55" fill="#cecece" />
<rect x="177.23" y="249.68" width="13.70" height="10.55" fill="#cecece" />
<rect x="192.10" y="249.68" width="13.70" height="10.55" fill="#f04a23" />
<rect x="206.97" y="249.68" width="13.70" height="10.55" fill="#cecece" />
<rect x="221.84" y="249.68" width="13.70" height="10.55" fill="#cecece" />
<rect x="236.71" y="249.68" width="13.70" height="10.55" fill="#cecece" />
<rect x="251.58" y="249.68" width="13.70" height="10.55" fill="#f04a23" />
<rect x="266.45" y="249.68" width="13.70" height="10.55" fill="#f04a23" />
<rect x="281.32" y="249.68" width="13.70" height="10.55" fill="#cecece" />
<rect x="296.19" y="249.68" width="13.70" height="10.55" fill="#cecece" />
<rect x="311.06" y="249.68" width="13.70" height="10.55" fill="#737373" />
<rect x="325.93" y="249.68" width="13.70" height="10.55" fill="#cecece" />
<rect x="340.80" y="249.68" width="13.70" height="10.55" fill="#f04a23" />
<rect x="355.67" y="249.68" width="13.70" height="10.55" fill="#cecece" />
<rect x="370.54" y="249.68" width="13.70" height="10.55" fill="#cecece" />
<rect x="385.41" y="249.68" width="13.70" height="10.55" fill="#12914a" />
<rect x="425.80" y="249.68" width="24.84" height="10.55" fill="#f04a23" />
<rect x="450.64" y="249.68" width="4.14" height="10.55" fill="#12914a" />
<rect x="454.78" y="249.68" width="4.14" height="10.55" fill="#737373" />
<text x="38.20" y="270.02" font-size="8.5" text-anchor="end" fill="#222" stroke="#222" stroke-width="0.2" font-weight="normal" font-style="italic" >KDM5C</text>
<text x="403.00" y="270.12" font-size="8.5" text-anchor="start" fill="#222" stroke="#222" stroke-width="0.2" font-weight="normal" font-style="normal" >33%</text>
<rect x="43.40" y="261.45" width="13.70" height="10.55" fill="#2f4b9d" />
<rect x="58.27" y="261.45" width="13.70" height="10.55" fill="#cecece" />
<rect x="73.14" y="261.45" width="13.70" height="10.55" fill="#2f4b9d" />
<rect x="88.01" y="261.45" width="13.70" height="10.55" fill="#cecece" />
<rect x="102.88" y="261.45" width="13.70" height="10.55" fill="#cecece" />
<rect x="117.75" y="261.45" width="13.70" height="10.55" fill="#cecece" />
<rect x="132.62" y="261.45" width="13.70" height="10.55" fill="#cecece" />
<rect x="147.49" y="261.45" width="13.70" height="10.55" fill="#cecece" />
<rect x="162.36" y="261.45" width="13.70" height="10.55" fill="#cecece" />
<rect x="177.23" y="261.45" width="13.70" height="10.55" fill="#12914a" />
<rect x="192.10" y="261.45" width="13.70" height="10.55" fill="#cecece" />
<rect x="206.97" y="261.45" width="13.70" height="10.55" fill="#cecece" />
<rect x="221.84" y="261.45" width="13.70" height="10.55" fill="#12914a" />
<rect x="236.71" y="261.45" width="13.70" height="10.55" fill="#cecece" />
<rect x="251.58" y="261.45" width="13.70" height="10.55" fill="#cecece" />
<rect x="266.45" y="261.45" width="13.70" height="10.55" fill="#cecece" />
<rect x="281.32" y="261.45" width="13.70" height="10.55" fill="#cecece" />
<rect x="296.19" y="261.45" width="13.70" height="10.55" fill="#cecece" />
<rect x="311.06" y="261.45" width="13.70" height="10.55" fill="#737373" />
<rect x="325.93" y="261.45" width="13.70" height="10.55" fill="#cecece" />
<rect x="340.80" y="261.45" width="13.70" height="10.55" fill="#cecece" />
<rect x="355.67" y="261.45" width="13.70" height="10.55" fill="#2f4b9d" />
<rect x="370.54" y="261.45" width="13.70" height="10.55" fill="#f04a23" />
<rect x="385.41" y="261.45" width="13.70" height="10.55" fill="#f04a23" />
<rect x="425.80" y="261.45" width="12.42" height="10.55" fill="#2f4b9d" />
<rect x="438.22" y="261.45" width="8.28" height="10.55" fill="#f04a23" />
<rect x="446.50" y="261.45" width="8.28" height="10.55" fill="#12914a" />
<rect x="454.78" y="261.45" width="4.14" height="10.55" fill="#737373" />
<text x="38.20" y="281.80" font-size="8.5" text-anchor="end" fill="#222" stroke="#222" stroke-width="0.2" font-weight="normal" font-style="italic" >MTOR</text>
<text x="403.00" y="281.90" font-size="8.5" text-anchor="start" fill="#222" stroke="#222" stroke-width="0.2" font-weight="normal" font-style="normal" >29%</text>
<rect x="43.40" y="273.23" width="13.70" height="10.55" fill="#f04a23" />
<rect x="58.27" y="273.23" width="13.70" height="10.55" fill="#67217b" />
<rect x="73.14" y="273.23" width="13.70" height="10.55" fill="#cecece" />
<rect x="88.01" y="273.23" width="13.70" height="10.55" fill="#737373" />
<rect x="102.88" y="273.23" width="13.70" height="10.55" fill="#cecece" />
<rect x="117.75" y="273.23" width="13.70" height="10.55" fill="#cecece" />
<rect x="132.62" y="273.23" width="13.70" height="10.55" fill="#cecece" />
<rect x="147.49" y="273.23" width="13.70" height="10.55" fill="#cecece" />
<rect x="162.36" y="273.23" width="13.70" height="10.55" fill="#cecece" />
<rect x="177.23" y="273.23" width="13.70" height="10.55" fill="#12914a" />
<rect x="192.10" y="273.23" width="13.70" height="10.55" fill="#cecece" />
<rect x="206.97" y="273.23" width="13.70" height="10.55" fill="#cecece" />
<rect x="221.84" y="273.23" width="13.70" height="10.55" fill="#cecece" />
<rect x="236.71" y="273.23" width="13.70" height="10.55" fill="#cecece" />
<rect x="251.58" y="273.23" width="13.70" height="10.55" fill="#cecece" />
<rect x="266.45" y="273.23" width="13.70" height="10.55" fill="#d92a9b" />
<rect x="281.32" y="273.23" width="13.70" height="10.55" fill="#cecece" />
<rect x="296.19" y="273.23" width="13.70" height="10.55" fill="#67217b" />
<rect x="311.06" y="273.23" width="13.70" height="10.55" fill="#f04a23" />
<rect x="325.93" y="273.23" width="13.70" height="10.55" fill="#cecece" />
<rect x="340.80" y="273.23" width="13.70" height="10.55" fill="#cecece" />
<rect x="355.67" y="273.23" width="13.70" height="10.55" fill="#cecece" />
<rect x="370.54" y="273.23" width="13.70" height="10.55" fill="#cecece" />
<rect x="385.41" y="273.23" width="13.70" height="10.55" fill="#cecece" />
<rect x="425.80" y="273.23" width="8.28" height="10.55" fill="#f04a23" />
<rect x="434.08" y="273.23" width="4.14" height="10.55" fill="#12914a" />
<rect x="438.22" y="273.23" width="8.28" height="10.55" fill="#67217b" />
<rect x="446.50" y="273.23" width="4.14" height="10.55" fill="#d92a9b" />
<rect x="450.64" y="273.23" width="4.14" height="10.55" fill="#737373" />
<text x="38.20" y="293.57" font-size="8.5" text-anchor="end" fill="#222" stroke="#222" stroke-width="0.2" font-weight="normal" font-style="italic" >NF1</text>
<text x="403.00" y="293.67" font-size="8.5" text-anchor="start" fill="#222" stroke="#222" stroke-width="0.2" font-weight="normal" font-style="normal" >29%</text>
<rect x="43.40" y="285.00" width="13.70" height="10.55" fill="#cecece" />
<rect x="58.27" y="285.00" width="13.70" height="10.55" fill="#cecece" />
<rect x="73.14" y="285.00" width="13.70" height="10.55" fill="#cecece" />
<rect x="88.01" y="285.00" width="13.70" height="10.55" fill="#2f4b9d" />
<rect x="102.88" y="285.00" width="13.70" height="10.55" fill="#cecece" />
<rect x="117.75" y="285.00" width="13.70" height="10.55" fill="#f04a23" />
<rect x="132.62" y="285.00" width="13.70" height="10.55" fill="#cecece" />
<rect x="147.49" y="285.00" width="13.70" height="10.55" fill="#cecece" />
<rect x="162.36" y="285.00" width="13.70" height="10.55" fill="#737373" />
<rect x="177.23" y="285.00" width="13.70" height="10.55" fill="#737373" />
<rect x="192.10" y="285.00" width="13.70" height="10.55" fill="#cecece" />
<rect x="206.97" y="285.00" width="13.70" height="10.55" fill="#12914a" />
<rect x="221.84" y="285.00" width="13.70" height="10.55" fill="#cecece" />
<rect x="236.71" y="285.00" width="13.70" height="10.55" fill="#cecece" />
<rect x="251.58" y="285.00" width="13.70" height="10.55" fill="#cecece" />
<rect x="266.45" y="285.00" width="13.70" height="10.55" fill="#cecece" />
<rect x="281.32" y="285.00" width="13.70" height="10.55" fill="#cecece" />
<rect x="296.19" y="285.00" width="13.70" height="10.55" fill="#cecece" />
<rect x="311.06" y="285.00" width="13.70" height="10.55" fill="#cecece" />
<rect x="325.93" y="285.00" width="13.70" height="10.55" fill="#cecece" />
<rect x="340.80" y="285.00" width="13.70" height="10.55" fill="#cecece" />
<rect x="355.67" y="285.00" width="13.70" height="10.55" fill="#cecece" />
<rect x="370.54" y="285.00" width="13.70" height="10.55" fill="#737373" />
<rect x="385.41" y="285.00" width="13.70" height="10.55" fill="#737373" />
<rect x="425.80" y="285.00" width="4.14" height="10.55" fill="#2f4b9d" />
<rect x="429.94" y="285.00" width="4.14" height="10.55" fill="#f04a23" />
<rect x="434.08" y="285.00" width="4.14" height="10.55" fill="#12914a" />
<rect x="438.22" y="285.00" width="16.56" height="10.55" fill="#737373" />
<text x="38.20" y="305.35" font-size="8.5" text-anchor="end" fill="#222" stroke="#222" stroke-width="0.2" font-weight="normal" font-style="italic" >PBRM1</text>
<text x="403.00" y="305.45" font-size="8.5" text-anchor="start" fill="#222" stroke="#222" stroke-width="0.2" font-weight="normal" font-style="normal" >29%</text>
<rect x="43.40" y="296.77" width="13.70" height="10.55" fill="#737373" />
<rect x="58.27" y="296.77" width="13.70" height="10.55" fill="#cecece" />
<rect x="73.14" y="296.77" width="13.70" height="10.55" fill="#cecece" />
<rect x="88.01" y="296.77" width="13.70" height="10.55" fill="#cecece" />
<rect x="102.88" y="296.77" width="13.70" height="10.55" fill="#cecece" />
<rect x="117.75" y="296.77" width="13.70" height="10.55" fill="#cecece" />
<rect x="132.62" y="296.77" width="13.70" height="10.55" fill="#cecece" />
<rect x="147.49" y="296.77" width="13.70" height="10.55" fill="#cecece" />
<rect x="162.36" y="296.77" width="13.70" height="10.55" fill="#cecece" />
<rect x="177.23" y="296.77" width="13.70" height="10.55" fill="#cecece" />
<rect x="192.10" y="296.77" width="13.70" height="10.55" fill="#cecece" />
<rect x="206.97" y="296.77" width="13.70" height="10.55" fill="#cecece" />
<rect x="221.84" y="296.77" width="13.70" height="10.55" fill="#12914a" />
<rect x="236.71" y="296.77" width="13.70" height="10.55" fill="#cecece" />
<rect x="251.58" y="296.77" width="13.70" height="10.55" fill="#cecece" />
<rect x="266.45" y="296.77" width="13.70" height="10.55" fill="#737373" />
<rect x="281.32" y="296.77" width="13.70" height="10.55" fill="#cecece" />
<rect x="296.19" y="296.77" width="13.70" height="10.55" fill="#12914a" />
<rect x="311.06" y="296.77" width="13.70" height="10.55" fill="#f04a23" />
<rect x="325.93" y="296.77" width="13.70" height="10.55" fill="#cecece" />
<rect x="340.80" y="296.77" width="13.70" height="10.55" fill="#cecece" />
<rect x="355.67" y="296.77" width="13.70" height="10.55" fill="#2f4b9d" />
<rect x="370.54" y="296.77" width="13.70" height="10.55" fill="#cecece" />
<rect x="385.41" y="296.77" width="13.70" height="10.55" fill="#f04a23" />
<rect x="425.80" y="296.77" width="4.14" height="10.55" fill="#2f4b9d" />
<rect x="429.94" y="296.77" width="8.28" height="10.55" fill="#f04a23" />
<rect x="438.22" y="296.77" width="8.28" height="10.55" fill="#12914a" />
<rect x="446.50" y="296.77" width="8.28" height="10.55" fill="#737373" />
<text x="38.20" y="317.12" font-size="8.5" text-anchor="end" fill="#222" stroke="#222" stroke-width="0.2" font-weight="normal" font-style="italic" >BRCA2</text>
<text x="403.00" y="317.22" font-size="8.5" text-anchor="start" fill="#222" stroke="#222" stroke-width="0.2" font-weight="normal" font-style="normal" >29%</text>
<rect x="43.40" y="308.55" width="13.70" height="10.55" fill="#12914a" />
<rect x="58.27" y="308.55" width="13.70" height="10.55" fill="#cecece" />
<rect x="73.14" y="308.55" width="13.70" height="10.55" fill="#cecece" />
<rect x="88.01" y="308.55" width="13.70" height="10.55" fill="#cecece" />
<rect x="102.88" y="308.55" width="13.70" height="10.55" fill="#cecece" />
<rect x="117.75" y="308.55" width="13.70" height="10.55" fill="#cecece" />
<rect x="132.62" y="308.55" width="13.70" height="10.55" fill="#cecece" />
<rect x="147.49" y="308.55" width="13.70" height="10.55" fill="#cecece" />
<rect x="162.36" y="308.55" width="13.70" height="10.55" fill="#cecece" />
<rect x="177.23" y="308.55" width="13.70" height="10.55" fill="#cecece" />
<rect x="192.10" y="308.55" width="13.70" height="10.55" fill="#cecece" />
<rect x="206.97" y="308.55" width="13.70" height="10.55" fill="#cecece" />
<rect x="221.84" y="308.55" width="13.70" height="10.55" fill="#cecece" />
<rect x="236.71" y="308.55" width="13.70" height="10.55" fill="#cecece" />
<rect x="251.58" y="308.55" width="13.70" height="10.55" fill="#cecece" />
<rect x="266.45" y="308.55" width="13.70" height="10.55" fill="#67217b" />
<rect x="281.32" y="308.55" width="13.70" height="10.55" fill="#cecece" />
<rect x="296.19" y="308.55" width="13.70" height="10.55" fill="#67217b" />
<rect x="311.06" y="308.55" width="13.70" height="10.55" fill="#f04a23" />
<rect x="325.93" y="308.55" width="13.70" height="10.55" fill="#12914a" />
<rect x="340.80" y="308.55" width="13.70" height="10.55" fill="#cecece" />
<rect x="355.67" y="308.55" width="13.70" height="10.55" fill="#cecece" />
<rect x="370.54" y="308.55" width="13.70" height="10.55" fill="#f04a23" />
<rect x="385.41" y="308.55" width="13.70" height="10.55" fill="#737373" />
<rect x="425.80" y="308.55" width="8.28" height="10.55" fill="#f04a23" />
<rect x="434.08" y="308.55" width="8.28" height="10.55" fill="#12914a" />
<rect x="442.36" y="308.55" width="8.28" height="10.55" fill="#67217b" />
<rect x="450.64" y="308.55" width="4.14" height="10.55" fill="#737373" />
<text x="38.20" y="328.90" font-size="8.5" text-anchor="end" fill="#222" stroke="#222" stroke-width="0.2" font-weight="normal" font-style="italic" >FAT1</text>
<text x="403.00" y="329.00" font-size="8.5" text-anchor="start" fill="#222" stroke="#222" stroke-width="0.2" font-weight="normal" font-style="normal" >29%</text>
<rect x="43.40" y="320.32" width="13.70" height="10.55" fill="#cecece" />
<rect x="58.27" y="320.32" width="13.70" height="10.55" fill="#cecece" />
<rect x="73.14" y="320.32" width="13.70" height="10.55" fill="#cecece" />
<rect x="88.01" y="320.32" width="13.70" height="10.55" fill="#f04a23" />
<rect x="102.88" y="320.32" width="13.70" height="10.55" fill="#cecece" />
<rect x="117.75" y="320.32" width="13.70" height="10.55" fill="#cecece" />
<rect x="132.62" y="320.32" width="13.70" height="10.55" fill="#cecece" />
<rect x="147.49" y="320.32" width="13.70" height="10.55" fill="#cecece" />
<rect x="162.36" y="320.32" width="13.70" height="10.55" fill="#cecece" />
<rect x="177.23" y="320.32" width="13.70" height="10.55" fill="#737373" />
<rect x="192.10" y="320.32" width="13.70" height="10.55" fill="#cecece" />
<rect x="206.97" y="320.32" width="13.70" height="10.55" fill="#cecece" />
<rect x="221.84" y="320.32" width="13.70" height="10.55" fill="#12914a" />
<rect x="236.71" y="320.32" width="13.70" height="10.55" fill="#cecece" />
<rect x="251.58" y="320.32" width="13.70" height="10.55" fill="#cecece" />
<rect x="266.45" y="320.32" width="13.70" height="10.55" fill="#12914a" />
<rect x="281.32" y="320.32" width="13.70" height="10.55" fill="#cecece" />
<rect x="296.19" y="320.32" width="13.70" height="10.55" fill="#12914a" />
<rect x="311.06" y="320.32" width="13.70" height="10.55" fill="#cecece" />
<rect x="325.93" y="320.32" width="13.70" height="10.55" fill="#cecece" />
<rect x="340.80" y="320.32" width="13.70" height="10.55" fill="#cecece" />
<rect x="355.67" y="320.32" width="13.70" height="10.55" fill="#cecece" />
<rect x="370.54" y="320.32" width="13.70" height="10.55" fill="#f04a23" />
<rect x="385.41" y="320.32" width="13.70" height="10.55" fill="#12914a" />
<rect x="425.80" y="320.32" width="8.28" height="10.55" fill="#f04a23" />
<rect x="434.08" y="320.32" width="16.56" height="10.55" fill="#12914a" />
<rect x="450.64" y="320.32" width="4.14" height="10.55" fill="#737373" />
<text x="38.20" y="340.68" font-size="8.5" text-anchor="end" fill="#222" stroke="#222" stroke-width="0.2" font-weight="normal" font-style="italic" >KRAS</text>
<text x="403.00" y="340.77" font-size="8.5" text-anchor="start" fill="#222" stroke="#222" stroke-width="0.2" font-weight="normal" font-style="normal" >29%</text>
<rect x="43.40" y="332.10" width="13.70" height="10.55" fill="#f04a23" />
<rect x="58.27" y="332.10" width="13.70" height="10.55" fill="#cecece" />
<rect x="73.14" y="332.10" width="13.70" height="10.55" fill="#cecece" />
<rect x="88.01" y="332.10" width="13.70" height="10.55" fill="#cecece" />
<rect x="102.88" y="332.10" width="13.70" height="10.55" fill="#f04a23" />
<rect x="117.75" y="332.10" width="13.70" height="10.55" fill="#cecece" />
<rect x="132.62" y="332.10" width="13.70" height="10.55" fill="#f04a23" />
<rect x="147.49" y="332.10" width="13.70" height="10.55" fill="#cecece" />
<rect x="162.36" y="332.10" width="13.70" height="10.55" fill="#cecece" />
<rect x="177.23" y="332.10" width="13.70" height="10.55" fill="#cecece" />
<rect x="192.10" y="332.10" width="13.70" height="10.55" fill="#f04a23" />
<rect x="206.97" y="332.10" width="13.70" height="10.55" fill="#cecece" />
<rect x="221.84" y="332.10" width="13.70" height="10.55" fill="#f04a23" />
<rect x="236.71" y="332.10" width="13.70" height="10.55" fill="#f04a23" />
<rect x="251.58" y="332.10" width="13.70" height="10.55" fill="#cecece" />
<rect x="266.45" y="332.10" width="13.70" height="10.55" fill="#cecece" />
<rect x="281.32" y="332.10" width="13.70" height="10.55" fill="#cecece" />
<rect x="296.19" y="332.10" width="13.70" height="10.55" fill="#cecece" />
<rect x="311.06" y="332.10" width="13.70" height="10.55" fill="#cecece" />
<rect x="325.93" y="332.10" width="13.70" height="10.55" fill="#f04a23" />
<rect x="340.80" y="332.10" width="13.70" height="10.55" fill="#cecece" />
<rect x="355.67" y="332.10" width="13.70" height="10.55" fill="#cecece" />
<rect x="370.54" y="332.10" width="13.70" height="10.55" fill="#cecece" />
<rect x="385.41" y="332.10" width="13.70" height="10.55" fill="#cecece" />
<rect x="425.80" y="332.10" width="28.98" height="10.55" fill="#f04a23" />
<text x="38.20" y="352.45" font-size="8.5" text-anchor="end" fill="#222" stroke="#222" stroke-width="0.2" font-weight="normal" font-style="italic" >CTNNB1</text>
<text x="403.00" y="352.55" font-size="8.5" text-anchor="start" fill="#222" stroke="#222" stroke-width="0.2" font-weight="normal" font-style="normal" >29%</text>
<rect x="43.40" y="343.88" width="13.70" height="10.55" fill="#cecece" />
<rect x="58.27" y="343.88" width="13.70" height="10.55" fill="#cecece" />
<rect x="73.14" y="343.88" width="13.70" height="10.55" fill="#cecece" />
<rect x="88.01" y="343.88" width="13.70" height="10.55" fill="#cecece" />
<rect x="102.88" y="343.88" width="13.70" height="10.55" fill="#f04a23" />
<rect x="117.75" y="343.88" width="13.70" height="10.55" fill="#f04a23" />
<rect x="132.62" y="343.88" width="13.70" height="10.55" fill="#cecece" />
<rect x="147.49" y="343.88" width="13.70" height="10.55" fill="#cecece" />
<rect x="162.36" y="343.88" width="13.70" height="10.55" fill="#cecece" />
<rect x="177.23" y="343.88" width="13.70" height="10.55" fill="#f04a23" />
<rect x="192.10" y="343.88" width="13.70" height="10.55" fill="#cecece" />
<rect x="206.97" y="343.88" width="13.70" height="10.55" fill="#f04a23" />
<rect x="221.84" y="343.88" width="13.70" height="10.55" fill="#cecece" />
<rect x="236.71" y="343.88" width="13.70" height="10.55" fill="#cecece" />
<rect x="251.58" y="343.88" width="13.70" height="10.55" fill="#cecece" />
<rect x="266.45" y="343.88" width="13.70" height="10.55" fill="#cecece" />
<rect x="281.32" y="343.88" width="13.70" height="10.55" fill="#737373" />
<rect x="296.19" y="343.88" width="13.70" height="10.55" fill="#cecece" />
<rect x="311.06" y="343.88" width="13.70" height="10.55" fill="#f04a23" />
<rect x="325.93" y="343.88" width="13.70" height="10.55" fill="#cecece" />
<rect x="340.80" y="343.88" width="13.70" height="10.55" fill="#cecece" />
<rect x="355.67" y="343.88" width="13.70" height="10.55" fill="#cecece" />
<rect x="370.54" y="343.88" width="13.70" height="10.55" fill="#f04a23" />
<rect x="385.41" y="343.88" width="13.70" height="10.55" fill="#cecece" />
<rect x="425.80" y="343.88" width="24.84" height="10.55" fill="#f04a23" />
<rect x="450.64" y="343.88" width="4.14" height="10.55" fill="#737373" />
<text x="38.20" y="364.22" font-size="8.5" text-anchor="end" fill="#222" stroke="#222" stroke-width="0.2" font-weight="normal" font-style="italic" >PIK3R1</text>
<text x="403.00" y="364.32" font-size="8.5" text-anchor="start" fill="#222" stroke="#222" stroke-width="0.2" font-weight="normal" font-style="normal" >25%</text>
<rect x="43.40" y="355.65" width="13.70" height="10.55" fill="#cecece" />
<rect x="58.27" y="355.65" width="13.70" height="10.55" fill="#cecece" />
<rect x="73.14" y="355.65" width="13.70" height="10.55" fill="#cecece" />
<rect x="88.01" y="355.65" width="13.70" height="10.55" fill="#cecece" />
<rect x="102.88" y="355.65" width="13.70" height="10.55" fill="#cecece" />
<rect x="117.75" y="355.65" width="13.70" height="10.55" fill="#2f4b9d" />
<rect x="132.62" y="355.65" width="13.70" height="10.55" fill="#cecece" />
<rect x="147.49" y="355.65" width="13.70" height="10.55" fill="#2f4b9d" />
<rect x="162.36" y="355.65" width="13.70" height="10.55" fill="#cecece" />
<rect x="177.23" y="355.65" width="13.70" height="10.55" fill="#cecece" />
<rect x="192.10" y="355.65" width="13.70" height="10.55" fill="#cecece" />
<rect x="206.97" y="355.65" width="13.70" height="10.55" fill="#cecece" />
<rect x="221.84" y="355.65" width="13.70" height="10.55" fill="#737373" />
<rect x="236.71" y="355.65" width="13.70" height="10.55" fill="#cecece" />
<rect x="251.58" y="355.65" width="13.70" height="10.55" fill="#f04a23" />
<rect x="266.45" y="355.65" width="13.70" height="10.55" fill="#cecece" />
<rect x="281.32" y="355.65" width="13.70" height="10.55" fill="#cecece" />
<rect x="296.19" y="355.65" width="13.70" height="10.55" fill="#cecece" />
<rect x="311.06" y="355.65" width="13.70" height="10.55" fill="#737373" />
<rect x="325.93" y="355.65" width="13.70" height="10.55" fill="#cecece" />
<rect x="340.80" y="355.65" width="13.70" height="10.55" fill="#737373" />
<rect x="355.67" y="355.65" width="13.70" height="10.55" fill="#cecece" />
<rect x="370.54" y="355.65" width="13.70" height="10.55" fill="#cecece" />
<rect x="385.41" y="355.65" width="13.70" height="10.55" fill="#cecece" />
<rect x="425.80" y="355.65" width="8.28" height="10.55" fill="#2f4b9d" />
<rect x="434.08" y="355.65" width="4.14" height="10.55" fill="#f04a23" />
<rect x="438.22" y="355.65" width="12.42" height="10.55" fill="#737373" />
<text x="38.20" y="376.00" font-size="8.5" text-anchor="end" fill="#222" stroke="#222" stroke-width="0.2" font-weight="normal" font-style="italic" >TP53</text>
<text x="403.00" y="376.10" font-size="8.5" text-anchor="start" fill="#222" stroke="#222" stroke-width="0.2" font-weight="normal" font-style="normal" >21%</text>
<rect x="43.40" y="367.42" width="13.70" height="10.55" fill="#cecece" />
<rect x="58.27" y="367.42" width="13.70" height="10.55" fill="#cecece" />
<rect x="73.14" y="367.42" width="13.70" height="10.55" fill="#cecece" />
<rect x="88.01" y="367.42" width="13.70" height="10.55" fill="#cecece" />
<rect x="102.88" y="367.42" width="13.70" height="10.55" fill="#cecece" />
<rect x="117.75" y="367.42" width="13.70" height="10.55" fill="#cecece" />
<rect x="132.62" y="367.42" width="13.70" height="10.55" fill="#cecece" />
<rect x="147.49" y="367.42" width="13.70" height="10.55" fill="#cecece" />
<rect x="162.36" y="367.42" width="13.70" height="10.55" fill="#cecece" />
<rect x="177.23" y="367.42" width="13.70" height="10.55" fill="#12914a" />
<rect x="192.10" y="367.42" width="13.70" height="10.55" fill="#cecece" />
<rect x="206.97" y="367.42" width="13.70" height="10.55" fill="#cecece" />
<rect x="221.84" y="367.42" width="13.70" height="10.55" fill="#cecece" />
<rect x="236.71" y="367.42" width="13.70" height="10.55" fill="#cecece" />
<rect x="251.58" y="367.42" width="13.70" height="10.55" fill="#cecece" />
<rect x="266.45" y="367.42" width="13.70" height="10.55" fill="#cecece" />
<rect x="281.32" y="367.42" width="13.70" height="10.55" fill="#cecece" />
<rect x="296.19" y="367.42" width="13.70" height="10.55" fill="#cecece" />
<rect x="311.06" y="367.42" width="13.70" height="10.55" fill="#f04a23" />
<rect x="325.93" y="367.42" width="13.70" height="10.55" fill="#cecece" />
<rect x="340.80" y="367.42" width="13.70" height="10.55" fill="#f04a23" />
<rect x="355.67" y="367.42" width="13.70" height="10.55" fill="#737373" />
<rect x="370.54" y="367.42" width="13.70" height="10.55" fill="#f04a23" />
<rect x="385.41" y="367.42" width="13.70" height="10.55" fill="#cecece" />
<rect x="425.80" y="367.42" width="12.42" height="10.55" fill="#f04a23" />
<rect x="438.22" y="367.42" width="4.14" height="10.55" fill="#12914a" />
<rect x="442.36" y="367.42" width="4.14" height="10.55" fill="#737373" />
<text x="38.20" y="387.78" font-size="8.5" text-anchor="end" fill="#222" stroke="#222" stroke-width="0.2" font-weight="normal" font-style="italic" >ARID1B</text>
<text x="403.00" y="387.88" font-size="8.5" text-anchor="start" fill="#222" stroke="#222" stroke-width="0.2" font-weight="normal" font-style="normal" >21%</text>
<rect x="43.40" y="379.20" width="13.70" height="10.55" fill="#12914a" />
<rect x="58.27" y="379.20" width="13.70" height="10.55" fill="#cecece" />
<rect x="73.14" y="379.20" width="13.70" height="10.55" fill="#f04a23" />
<rect x="88.01" y="379.20" width="13.70" height="10.55" fill="#cecece" />
<rect x="102.88" y="379.20" width="13.70" height="10.55" fill="#cecece" />
<rect x="117.75" y="379.20" width="13.70" height="10.55" fill="#cecece" />
<rect x="132.62" y="379.20" width="13.70" height="10.55" fill="#cecece" />
<rect x="147.49" y="379.20" width="13.70" height="10.55" fill="#cecece" />
<rect x="162.36" y="379.20" width="13.70" height="10.55" fill="#cecece" />
<rect x="177.23" y="379.20" width="13.70" height="10.55" fill="#cecece" />
<rect x="192.10" y="379.20" width="13.70" height="10.55" fill="#cecece" />
<rect x="206.97" y="379.20" width="13.70" height="10.55" fill="#cecece" />
<rect x="221.84" y="379.20" width="13.70" height="10.55" fill="#cecece" />
<rect x="236.71" y="379.20" width="13.70" height="10.55" fill="#cecece" />
<rect x="251.58" y="379.20" width="13.70" height="10.55" fill="#2f4b9d" />
<rect x="266.45" y="379.20" width="13.70" height="10.55" fill="#cecece" />
<rect x="281.32" y="379.20" width="13.70" height="10.55" fill="#cecece" />
<rect x="296.19" y="379.20" width="13.70" height="10.55" fill="#cecece" />
<rect x="311.06" y="379.20" width="13.70" height="10.55" fill="#cecece" />
<rect x="325.93" y="379.20" width="13.70" height="10.55" fill="#cecece" />
<rect x="340.80" y="379.20" width="13.70" height="10.55" fill="#cecece" />
<rect x="355.67" y="379.20" width="13.70" height="10.55" fill="#cecece" />
<rect x="370.54" y="379.20" width="13.70" height="10.55" fill="#f04a23" />
<rect x="385.41" y="379.20" width="13.70" height="10.55" fill="#12914a" />
<rect x="425.80" y="379.20" width="4.14" height="10.55" fill="#2f4b9d" />
<rect x="429.94" y="379.20" width="8.28" height="10.55" fill="#f04a23" />
<rect x="438.22" y="379.20" width="8.28" height="10.55" fill="#12914a" />
<text x="38.20" y="399.55" font-size="8.5" text-anchor="end" fill="#222" stroke="#222" stroke-width="0.2" font-weight="normal" font-style="italic" >RNF43</text>
<text x="403.00" y="399.65" font-size="8.5" text-anchor="start" fill="#222" stroke="#222" stroke-width="0.2" font-weight="normal" font-style="normal" >21%</text>
<rect x="43.40" y="390.98" width="13.70" height="10.55" fill="#2f4b9d" />
<rect x="58.27" y="390.98" width="13.70" height="10.55" fill="#2f4b9d" />
<rect x="73.14" y="390.98" width="13.70" height="10.55" fill="#cecece" />
<rect x="88.01" y="390.98" width="13.70" height="10.55" fill="#cecece" />
<rect x="102.88" y="390.98" width="13.70" height="10.55" fill="#cecece" />
<rect x="117.75" y="390.98" width="13.70" height="10.55" fill="#2f4b9d" />
<rect x="132.62" y="390.98" width="13.70" height="10.55" fill="#cecece" />
<rect x="147.49" y="390.98" width="13.70" height="10.55" fill="#2f4b9d" />
<rect x="162.36" y="390.98" width="13.70" height="10.55" fill="#cecece" />
<rect x="177.23" y="390.98" width="13.70" height="10.55" fill="#cecece" />
<rect x="192.10" y="390.98" width="13.70" height="10.55" fill="#cecece" />
<rect x="206.97" y="390.98" width="13.70" height="10.55" fill="#cecece" />
<rect x="221.84" y="390.98" width="13.70" height="10.55" fill="#cecece" />
<rect x="236.71" y="390.98" width="13.70" height="10.55" fill="#cecece" />
<rect x="251.58" y="390.98" width="13.70" height="10.55" fill="#cecece" />
<rect x="266.45" y="390.98" width="13.70" height="10.55" fill="#cecece" />
<rect x="281.32" y="390.98" width="13.70" height="10.55" fill="#cecece" />
<rect x="296.19" y="390.98" width="13.70" height="10.55" fill="#cecece" />
<rect x="311.06" y="390.98" width="13.70" height="10.55" fill="#cecece" />
<rect x="325.93" y="390.98" width="13.70" height="10.55" fill="#2f4b9d" />
<rect x="340.80" y="390.98" width="13.70" height="10.55" fill="#cecece" />
<rect x="355.67" y="390.98" width="13.70" height="10.55" fill="#cecece" />
<rect x="370.54" y="390.98" width="13.70" height="10.55" fill="#cecece" />
<rect x="385.41" y="390.98" width="13.70" height="10.55" fill="#cecece" />
<rect x="425.80" y="390.98" width="20.70" height="10.55" fill="#2f4b9d" />
<text x="38.20" y="411.32" font-size="8.5" text-anchor="end" fill="#222" stroke="#222" stroke-width="0.2" font-weight="normal" font-style="italic" >FGFR2</text>
<text x="403.00" y="411.42" font-size="8.5" text-anchor="start" fill="#222" stroke="#222" stroke-width="0.2" font-weight="normal" font-style="normal" >21%</text>
<rect x="43.40" y="402.75" width="13.70" height="10.55" fill="#12914a" />
<rect x="58.27" y="402.75" width="13.70" height="10.55" fill="#cecece" />
<rect x="73.14" y="402.75" width="13.70" height="10.55" fill="#cecece" />
<rect x="88.01" y="402.75" width="13.70" height="10.55" fill="#cecece" />
<rect x="102.88" y="402.75" width="13.70" height="10.55" fill="#cecece" />
<rect x="117.75" y="402.75" width="13.70" height="10.55" fill="#cecece" />
<rect x="132.62" y="402.75" width="13.70" height="10.55" fill="#cecece" />
<rect x="147.49" y="402.75" width="13.70" height="10.55" fill="#cecece" />
<rect x="162.36" y="402.75" width="13.70" height="10.55" fill="#cecece" />
<rect x="177.23" y="402.75" width="13.70" height="10.55" fill="#f04a23" />
<rect x="192.10" y="402.75" width="13.70" height="10.55" fill="#cecece" />
<rect x="206.97" y="402.75" width="13.70" height="10.55" fill="#f04a23" />
<rect x="221.84" y="402.75" width="13.70" height="10.55" fill="#cecece" />
<rect x="236.71" y="402.75" width="13.70" height="10.55" fill="#cecece" />
<rect x="251.58" y="402.75" width="13.70" height="10.55" fill="#cecece" />
<rect x="266.45" y="402.75" width="13.70" height="10.55" fill="#cecece" />
<rect x="281.32" y="402.75" width="13.70" height="10.55" fill="#cecece" />
<rect x="296.19" y="402.75" width="13.70" height="10.55" fill="#12914a" />
<rect x="311.06" y="402.75" width="13.70" height="10.55" fill="#cecece" />
<rect x="325.93" y="402.75" width="13.70" height="10.55" fill="#cecece" />
<rect x="340.80" y="402.75" width="13.70" height="10.55" fill="#cecece" />
<rect x="355.67" y="402.75" width="13.70" height="10.55" fill="#cecece" />
<rect x="370.54" y="402.75" width="13.70" height="10.55" fill="#67217b" />
<rect x="385.41" y="402.75" width="13.70" height="10.55" fill="#cecece" />
<rect x="425.80" y="402.75" width="8.28" height="10.55" fill="#f04a23" />
<rect x="434.08" y="402.75" width="8.28" height="10.55" fill="#12914a" />
<rect x="442.36" y="402.75" width="4.14" height="10.55" fill="#67217b" />
<text x="38.20" y="423.10" font-size="8.5" text-anchor="end" fill="#222" stroke="#222" stroke-width="0.2" font-weight="normal" font-style="italic" >NOTCH1</text>
<text x="403.00" y="423.20" font-size="8.5" text-anchor="start" fill="#222" stroke="#222" stroke-width="0.2" font-weight="normal" font-style="normal" >21%</text>
<rect x="43.40" y="414.52" width="13.70" height="10.55" fill="#cecece" />
<rect x="58.27" y="414.52" width="13.70" height="10.55" fill="#cecece" />
<rect x="73.14" y="414.52" width="13.70" height="10.55" fill="#67217b" />
<rect x="88.01" y="414.52" width="13.70" height="10.55" fill="#cecece" />
<rect x="102.88" y="414.52" width="13.70" height="10.55" fill="#cecece" />
<rect x="117.75" y="414.52" width="13.70" height="10.55" fill="#cecece" />
<rect x="132.62" y="414.52" width="13.70" height="10.55" fill="#cecece" />
<rect x="147.49" y="414.52" width="13.70" height="10.55" fill="#cecece" />
<rect x="162.36" y="414.52" width="13.70" height="10.55" fill="#f04a23" />
<rect x="177.23" y="414.52" width="13.70" height="10.55" fill="#f04a23" />
<rect x="192.10" y="414.52" width="13.70" height="10.55" fill="#cecece" />
<rect x="206.97" y="414.52" width="13.70" height="10.55" fill="#cecece" />
<rect x="221.84" y="414.52" width="13.70" height="10.55" fill="#cecece" />
<rect x="236.71" y="414.52" width="13.70" height="10.55" fill="#cecece" />
<rect x="251.58" y="414.52" width="13.70" height="10.55" fill="#cecece" />
<rect x="266.45" y="414.52" width="13.70" height="10.55" fill="#cecece" />
<rect x="281.32" y="414.52" width="13.70" height="10.55" fill="#cecece" />
<rect x="296.19" y="414.52" width="13.70" height="10.55" fill="#cecece" />
<rect x="311.06" y="414.52" width="13.70" height="10.55" fill="#12914a" />
<rect x="325.93" y="414.52" width="13.70" height="10.55" fill="#cecece" />
<rect x="340.80" y="414.52" width="13.70" height="10.55" fill="#cecece" />
<rect x="355.67" y="414.52" width="13.70" height="10.55" fill="#f04a23" />
<rect x="370.54" y="414.52" width="13.70" height="10.55" fill="#cecece" />
<rect x="385.41" y="414.52" width="13.70" height="10.55" fill="#cecece" />
<rect x="425.80" y="414.52" width="12.42" height="10.55" fill="#f04a23" />
<rect x="438.22" y="414.52" width="4.14" height="10.55" fill="#12914a" />
<rect x="442.36" y="414.52" width="4.14" height="10.55" fill="#67217b" />
<text x="38.20" y="434.87" font-size="8.5" text-anchor="end" fill="#222" stroke="#222" stroke-width="0.2" font-weight="normal" font-style="italic" >ATM</text>
<text x="403.00" y="434.97" font-size="8.5" text-anchor="start" fill="#222" stroke="#222" stroke-width="0.2" font-weight="normal" font-style="normal" >21%</text>
<rect x="43.40" y="426.30" width="13.70" height="10.55" fill="#cecece" />
<rect x="58.27" y="426.30" width="13.70" height="10.55" fill="#cecece" />
<rect x="73.14" y="426.30" width="13.70" height="10.55" fill="#cecece" />
<rect x="88.01" y="426.30" width="13.70" height="10.55" fill="#cecece" />
<rect x="102.88" y="426.30" width="13.70" height="10.55" fill="#2f4b9d" />
<rect x="117.75" y="426.30" width="13.70" height="10.55" fill="#cecece" />
<rect x="132.62" y="426.30" width="13.70" height="10.55" fill="#cecece" />
<rect x="147.49" y="426.30" width="13.70" height="10.55" fill="#cecece" />
<rect x="162.36" y="426.30" width="13.70" height="10.55" fill="#cecece" />
<rect x="177.23" y="426.30" width="13.70" height="10.55" fill="#f04a23" />
<rect x="192.10" y="426.30" width="13.70" height="10.55" fill="#cecece" />
<rect x="206.97" y="426.30" width="13.70" height="10.55" fill="#cecece" />
<rect x="221.84" y="426.30" width="13.70" height="10.55" fill="#cecece" />
<rect x="236.71" y="426.30" width="13.70" height="10.55" fill="#cecece" />
<rect x="251.58" y="426.30" width="13.70" height="10.55" fill="#cecece" />
<rect x="266.45" y="426.30" width="13.70" height="10.55" fill="#cecece" />
<rect x="281.32" y="426.30" width="13.70" height="10.55" fill="#cecece" />
<rect x="296.19" y="426.30" width="13.70" height="10.55" fill="#12914a" />
<rect x="311.06" y="426.30" width="13.70" height="10.55" fill="#737373" />
<rect x="325.93" y="426.30" width="13.70" height="10.55" fill="#cecece" />
<rect x="340.80" y="426.30" width="13.70" height="10.55" fill="#cecece" />
<rect x="355.67" y="426.30" width="13.70" height="10.55" fill="#cecece" />
<rect x="370.54" y="426.30" width="13.70" height="10.55" fill="#cecece" />
<rect x="385.41" y="426.30" width="13.70" height="10.55" fill="#f04a23" />
<rect x="425.80" y="426.30" width="4.14" height="10.55" fill="#2f4b9d" />
<rect x="429.94" y="426.30" width="8.28" height="10.55" fill="#f04a23" />
<rect x="438.22" y="426.30" width="4.14" height="10.55" fill="#12914a" />
<rect x="442.36" y="426.30" width="4.14" height="10.55" fill="#737373" />
<text x="38.20" y="446.65" font-size="8.5" text-anchor="end" fill="#222" stroke="#222" stroke-width="0.2" font-weight="normal" font-style="italic" >B2M</text>
<text x="403.00" y="446.75" font-size="8.5" text-anchor="start" fill="#222" stroke="#222" stroke-width="0.2" font-weight="normal" font-style="normal" >8%</text>
<rect x="43.40" y="438.08" width="13.70" height="10.55" fill="#cecece" />
<rect x="58.27" y="438.08" width="13.70" height="10.55" fill="#cecece" />
<rect x="73.14" y="438.08" width="13.70" height="10.55" fill="#cecece" />
<rect x="88.01" y="438.08" width="13.70" height="10.55" fill="#cecece" />
<rect x="102.88" y="438.08" width="13.70" height="10.55" fill="#2f4b9d" />
<rect x="117.75" y="438.08" width="13.70" height="10.55" fill="#cecece" />
<rect x="132.62" y="438.08" width="13.70" height="10.55" fill="#cecece" />
<rect x="147.49" y="438.08" width="13.70" height="10.55" fill="#cecece" />
<rect x="162.36" y="438.08" width="13.70" height="10.55" fill="#cecece" />
<rect x="177.23" y="438.08" width="13.70" height="10.55" fill="#cecece" />
<rect x="192.10" y="438.08" width="13.70" height="10.55" fill="#cecece" />
<rect x="206.97" y="438.08" width="13.70" height="10.55" fill="#cecece" />
<rect x="221.84" y="438.08" width="13.70" height="10.55" fill="#cecece" />
<rect x="236.71" y="438.08" width="13.70" height="10.55" fill="#cecece" />
<rect x="251.58" y="438.08" width="13.70" height="10.55" fill="#cecece" />
<rect x="266.45" y="438.08" width="13.70" height="10.55" fill="#cecece" />
<rect x="281.32" y="438.08" width="13.70" height="10.55" fill="#cecece" />
<rect x="296.19" y="438.08" width="13.70" height="10.55" fill="#2f4b9d" />
<rect x="311.06" y="438.08" width="13.70" height="10.55" fill="#cecece" />
<rect x="325.93" y="438.08" width="13.70" height="10.55" fill="#cecece" />
<rect x="340.80" y="438.08" width="13.70" height="10.55" fill="#cecece" />
<rect x="355.67" y="438.08" width="13.70" height="10.55" fill="#cecece" />
<rect x="370.54" y="438.08" width="13.70" height="10.55" fill="#cecece" />
<rect x="385.41" y="438.08" width="13.70" height="10.55" fill="#cecece" />
<rect x="425.80" y="438.08" width="8.28" height="10.55" fill="#2f4b9d" />
<line x1="425.50" y1="93.30" x2="514.00" y2="93.30" stroke="#222" stroke-width="1" />
<line x1="425.90" y1="90.30" x2="425.90" y2="93.80" stroke="#222" stroke-width="1" />
<line x1="513.60" y1="90.30" x2="513.60" y2="93.80" stroke="#222" stroke-width="1" />
<text x="425.70" y="87.00" font-size="8.5" text-anchor="middle" fill="#222" stroke="#222" stroke-width="0.2" font-weight="normal" font-style="normal" >0</text>
<text x="513.10" y="87.00" font-size="8.5" text-anchor="middle" fill="#222" stroke="#222" stroke-width="0.2" font-weight="normal" font-style="normal" >21</text>
<text x="469.10" y="79.80" font-size="8.5" text-anchor="middle" fill="#222" stroke="#222" stroke-width="0.2" font-weight="normal" font-style="normal" ># Samples w/ mut</text>
<rect x="41.70" y="453.60" width="358.60" height="14.20" fill="#fff" stroke="#222" stroke-width="1"/>
<rect x="43.05" y="454.40" width="14.40" height="12.60" fill="#a1d2da" />
<rect x="57.92" y="454.40" width="14.40" height="12.60" fill="#a1d2da" />
<rect x="72.79" y="454.40" width="14.40" height="12.60" fill="#a1d2da" />
<rect x="87.66" y="454.40" width="14.40" height="12.60" fill="#a1d2da" />
<rect x="102.53" y="454.40" width="14.40" height="12.60" fill="#a1d2da" />
<rect x="117.40" y="454.40" width="14.40" height="12.60" fill="#a1d2da" />
<rect x="132.27" y="454.40" width="14.40" height="12.60" fill="#a1d2da" />
<rect x="147.14" y="454.40" width="14.40" height="12.60" fill="#a1d2da" />
<rect x="162.01" y="454.40" width="14.40" height="12.60" fill="#a1d2da" />
<rect x="176.88" y="454.40" width="14.40" height="12.60" fill="#a1d2da" />
<rect x="191.75" y="454.40" width="14.40" height="12.60" fill="#fbd475" />
<rect x="206.62" y="454.40" width="14.40" height="12.60" fill="#fbd475" />
<rect x="221.49" y="454.40" width="14.40" height="12.60" fill="#fbd475" />
<rect x="236.36" y="454.40" width="14.40" height="12.60" fill="#fbd475" />
<rect x="251.23" y="454.40" width="14.40" height="12.60" fill="#fbd475" />
<rect x="266.10" y="454.40" width="14.40" height="12.60" fill="#fbd475" />
<rect x="280.97" y="454.40" width="14.40" height="12.60" fill="#fbd475" />
<rect x="295.84" y="454.40" width="14.40" height="12.60" fill="#fbd475" />
<rect x="310.71" y="454.40" width="14.40" height="12.60" fill="#ef7b7c" />
<rect x="325.58" y="454.40" width="14.40" height="12.60" fill="#ef7b7c" />
<rect x="340.45" y="454.40" width="14.40" height="12.60" fill="#ef7b7c" />
<rect x="355.32" y="454.40" width="14.40" height="12.60" fill="#ef7b7c" />
<rect x="370.19" y="454.40" width="14.40" height="12.60" fill="#ef7b7c" />
<rect x="385.06" y="454.40" width="14.40" height="12.60" fill="#ef7b7c" />
<text x="0.00" y="0.00" font-size="9.0" text-anchor="end" fill="#222" stroke="#222" stroke-width="0.2" font-weight="normal" font-style="normal" transform="translate(57.15,476.10) rotate(-45)">PEM17</text>
<text x="0.00" y="0.00" font-size="9.0" text-anchor="end" fill="#222" stroke="#222" stroke-width="0.2" font-weight="normal" font-style="normal" transform="translate(72.02,476.10) rotate(-45)">PEM01</text>
<text x="0.00" y="0.00" font-size="9.0" text-anchor="end" fill="#222" stroke="#222" stroke-width="0.2" font-weight="normal" font-style="normal" transform="translate(86.89,476.10) rotate(-45)">PEM07</text>
<text x="0.00" y="0.00" font-size="9.0" text-anchor="end" fill="#222" stroke="#222" stroke-width="0.2" font-weight="normal" font-style="normal" transform="translate(101.76,476.10) rotate(-45)">PEM10</text>
<text x="0.00" y="0.00" font-size="9.0" text-anchor="end" fill="#222" stroke="#222" stroke-width="0.2" font-weight="normal" font-style="normal" transform="translate(116.63,476.10) rotate(-45)">PEM26</text>
<text x="0.00" y="0.00" font-size="9.0" text-anchor="end" fill="#222" stroke="#222" stroke-width="0.2" font-weight="normal" font-style="normal" transform="translate(131.50,476.10) rotate(-45)">PEM09</text>
<text x="0.00" y="0.00" font-size="9.0" text-anchor="end" fill="#222" stroke="#222" stroke-width="0.2" font-weight="normal" font-style="normal" transform="translate(146.37,476.10) rotate(-45)">PEM08</text>
<text x="0.00" y="0.00" font-size="9.0" text-anchor="end" fill="#222" stroke="#222" stroke-width="0.2" font-weight="normal" font-style="normal" transform="translate(161.24,476.10) rotate(-45)">PEM03</text>
<text x="0.00" y="0.00" font-size="9.0" text-anchor="end" fill="#222" stroke="#222" stroke-width="0.2" font-weight="normal" font-style="normal" transform="translate(176.11,476.10) rotate(-45)">PEM16</text>
<text x="0.00" y="0.00" font-size="9.0" text-anchor="end" fill="#222" stroke="#222" stroke-width="0.2" font-weight="normal" font-style="normal" transform="translate(190.98,476.10) rotate(-45)">PEM15</text>
<text x="0.00" y="0.00" font-size="9.0" text-anchor="end" fill="#222" stroke="#222" stroke-width="0.2" font-weight="normal" font-style="normal" transform="translate(205.85,476.10) rotate(-45)">PEM21</text>
<text x="0.00" y="0.00" font-size="9.0" text-anchor="end" fill="#222" stroke="#222" stroke-width="0.2" font-weight="normal" font-style="normal" transform="translate(220.72,476.10) rotate(-45)">PEM11</text>
<text x="0.00" y="0.00" font-size="9.0" text-anchor="end" fill="#222" stroke="#222" stroke-width="0.2" font-weight="normal" font-style="normal" transform="translate(235.59,476.10) rotate(-45)">PEM19</text>
<text x="0.00" y="0.00" font-size="9.0" text-anchor="end" fill="#222" stroke="#222" stroke-width="0.2" font-weight="normal" font-style="normal" transform="translate(250.46,476.10) rotate(-45)">PEM13</text>
<text x="0.00" y="0.00" font-size="9.0" text-anchor="end" fill="#222" stroke="#222" stroke-width="0.2" font-weight="normal" font-style="normal" transform="translate(265.33,476.10) rotate(-45)">PEM12</text>
<text x="0.00" y="0.00" font-size="9.0" text-anchor="end" fill="#222" stroke="#222" stroke-width="0.2" font-weight="normal" font-style="normal" transform="translate(280.20,476.10) rotate(-45)">PEM20</text>
<text x="0.00" y="0.00" font-size="9.0" text-anchor="end" fill="#222" stroke="#222" stroke-width="0.2" font-weight="normal" font-style="normal" transform="translate(295.07,476.10) rotate(-45)">PEM22</text>
<text x="0.00" y="0.00" font-size="9.0" text-anchor="end" fill="#222" stroke="#222" stroke-width="0.2" font-weight="normal" font-style="normal" transform="translate(309.94,476.10) rotate(-45)">PEM18</text>
<text x="0.00" y="0.00" font-size="9.0" text-anchor="end" fill="#222" stroke="#222" stroke-width="0.2" font-weight="normal" font-style="normal" transform="translate(324.81,476.10) rotate(-45)">PEM25</text>
<text x="0.00" y="0.00" font-size="9.0" text-anchor="end" fill="#222" stroke="#222" stroke-width="0.2" font-weight="normal" font-style="normal" transform="translate(339.68,476.10) rotate(-45)">PEM05</text>
<text x="0.00" y="0.00" font-size="9.0" text-anchor="end" fill="#222" stroke="#222" stroke-width="0.2" font-weight="normal" font-style="normal" transform="translate(354.55,476.10) rotate(-45)">PEM14</text>
<text x="0.00" y="0.00" font-size="9.0" text-anchor="end" fill="#222" stroke="#222" stroke-width="0.2" font-weight="normal" font-style="normal" transform="translate(369.42,476.10) rotate(-45)">PEM06</text>
<text x="0.00" y="0.00" font-size="9.0" text-anchor="end" fill="#222" stroke="#222" stroke-width="0.2" font-weight="normal" font-style="normal" transform="translate(384.29,476.10) rotate(-45)">PEM23</text>
<text x="0.00" y="0.00" font-size="9.0" text-anchor="end" fill="#222" stroke="#222" stroke-width="0.2" font-weight="normal" font-style="normal" transform="translate(399.16,476.10) rotate(-45)">PEM02</text>
<rect x="43.00" y="506.80" width="238.80" height="55.00" fill="#fff" stroke="#222" stroke-width="1"/>
<rect x="53.20" y="512.20" width="11.40" height="11.20" fill="#2f4b9d" />
<text x="69.40" y="520.90" font-size="8.7" text-anchor="start" fill="#222" stroke="#222" stroke-width="0.2" font-weight="normal" font-style="normal" >Frameshift deletion</text>
<rect x="53.20" y="528.90" width="11.40" height="11.20" fill="#f04a23" />
<text x="69.40" y="537.60" font-size="8.7" text-anchor="start" fill="#222" stroke="#222" stroke-width="0.2" font-weight="normal" font-style="normal" >Missense mutation</text>
<rect x="53.20" y="545.60" width="11.40" height="11.20" fill="#12914a" />
<text x="69.40" y="554.30" font-size="8.7" text-anchor="start" fill="#222" stroke="#222" stroke-width="0.2" font-weight="normal" font-style="normal" >Frameshift insertion</text>
<rect x="177.00" y="512.20" width="11.40" height="11.20" fill="#67217b" />
<text x="192.90" y="520.90" font-size="8.7" text-anchor="start" fill="#222" stroke="#222" stroke-width="0.2" font-weight="normal" font-style="normal" >Nonsense mutation</text>
<rect x="177.00" y="528.90" width="11.40" height="11.20" fill="#d92a9b" />
<text x="192.90" y="537.60" font-size="8.7" text-anchor="start" fill="#222" stroke="#222" stroke-width="0.2" font-weight="normal" font-style="normal" >Splice site</text>
<rect x="177.00" y="545.60" width="11.40" height="11.20" fill="#737373" />
<text x="192.90" y="554.30" font-size="8.7" text-anchor="start" fill="#222" stroke="#222" stroke-width="0.2" font-weight="normal" font-style="normal" >Multi-hit</text>
<rect x="310.60" y="506.80" width="89.40" height="55.00" fill="#fff" stroke="#222" stroke-width="1"/>
<rect x="318.30" y="512.20" width="11.20" height="11.20" fill="#a1d2da" />
<text x="332.80" y="520.90" font-size="8.7" text-anchor="start" fill="#222" stroke="#222" stroke-width="0.2" font-weight="normal" font-style="normal" >NR (<tspan font-style="italic">n</tspan> = 10)</text>
<rect x="318.30" y="528.90" width="11.20" height="11.20" fill="#fbd475" />
<text x="332.80" y="537.60" font-size="8.7" text-anchor="start" fill="#222" stroke="#222" stroke-width="0.2" font-weight="normal" font-style="normal" >epiR (<tspan font-style="italic">n</tspan> = 8)</text>
<rect x="318.30" y="545.60" width="11.20" height="11.20" fill="#ef7b7c" />
<text x="332.80" y="554.30" font-size="8.7" text-anchor="start" fill="#222" stroke="#222" stroke-width="0.2" font-weight="normal" font-style="normal" >mutR (<tspan font-style="italic">n</tspan> = 6)</text>
<text x="0.70" y="585.30" font-size="10.2" text-anchor="start" fill="#111" stroke="#111" stroke-width="0.2" font-weight="bold" font-style="normal" >B</text>
<text x="29.50" y="589.20" font-size="8.6" text-anchor="start" fill="#111" stroke="#111" stroke-width="0.12" font-weight="bold" font-style="normal" >Association of mutations with anti–PD-1 response</text>
<line x1="26.80" y1="642.50" x2="230.50" y2="642.50" stroke="#666" stroke-width="0.8" stroke-dasharray="2.5 1.6"/>
<line x1="26.80" y1="675.50" x2="230.50" y2="675.50" stroke="#666" stroke-width="0.8" stroke-dasharray="2.5 1.6"/>
<line x1="122.50" y1="598.00" x2="122.50" y2="790.50" stroke="#666" stroke-width="0.8" stroke-dasharray="2.5 1.6"/>
<line x1="26.80" y1="598.50" x2="26.80" y2="791.20" stroke="#333" stroke-width="1" />
<line x1="26.30" y1="790.70" x2="231.00" y2="790.70" stroke="#333" stroke-width="1" />
<line x1="24.20" y1="782.40" x2="26.80" y2="782.40" stroke="#333" stroke-width="0.9" />
<text x="21.80" y="785.50" font-size="8.5" text-anchor="end" fill="#222" stroke="#222" stroke-width="0.2" font-weight="normal" font-style="normal" >0</text>
<line x1="24.20" y1="735.90" x2="26.80" y2="735.90" stroke="#333" stroke-width="0.9" />
<text x="21.80" y="739.00" font-size="8.5" text-anchor="end" fill="#222" stroke="#222" stroke-width="0.2" font-weight="normal" font-style="normal" >1</text>
<line x1="24.20" y1="689.40" x2="26.80" y2="689.40" stroke="#333" stroke-width="0.9" />
<text x="21.80" y="692.50" font-size="8.5" text-anchor="end" fill="#222" stroke="#222" stroke-width="0.2" font-weight="normal" font-style="normal" >2</text>
<line x1="24.20" y1="642.90" x2="26.80" y2="642.90" stroke="#333" stroke-width="0.9" />
<text x="21.80" y="646.00" font-size="8.5" text-anchor="end" fill="#222" stroke="#222" stroke-width="0.2" font-weight="normal" font-style="normal" >3</text>
<line x1="37.70" y1="790.70" x2="37.70" y2="793.30" stroke="#333" stroke-width="0.9" />
<text x="36.40" y="803.20" font-size="8.5" text-anchor="middle" fill="#222" stroke="#222" stroke-width="0.2" font-weight="normal" font-style="normal" >−2</text>
<line x1="80.10" y1="790.70" x2="80.10" y2="793.30" stroke="#333" stroke-width="0.9" />
<text x="78.80" y="803.20" font-size="8.5" text-anchor="middle" fill="#222" stroke="#222" stroke-width="0.2" font-weight="normal" font-style="normal" >−1</text>
<line x1="122.50" y1="790.70" x2="122.50" y2="793.30" stroke="#333" stroke-width="0.9" />
<text x="122.50" y="803.20" font-size="8.5" text-anchor="middle" fill="#222" stroke="#222" stroke-width="0.2" font-weight="normal" font-style="normal" >0</text>
<line x1="164.90" y1="790.70" x2="164.90" y2="793.30" stroke="#333" stroke-width="0.9" />
<text x="164.90" y="803.20" font-size="8.5" text-anchor="middle" fill="#222" stroke="#222" stroke-width="0.2" font-weight="normal" font-style="normal" >1</text>
<line x1="207.30" y1="790.70" x2="207.30" y2="793.30" stroke="#333" stroke-width="0.9" />
<text x="207.30" y="803.20" font-size="8.5" text-anchor="middle" fill="#222" stroke="#222" stroke-width="0.2" font-weight="normal" font-style="normal" >2</text>
<text x="0.00" y="0.00" font-size="8.5" text-anchor="middle" fill="#222" stroke="#222" stroke-width="0.2" font-weight="normal" font-style="normal" transform="translate(8.5,695.8) rotate(-90)">−Log <tspan font-style="italic">P</tspan></text>
<text x="62.00" y="814.30" font-size="8.5" text-anchor="middle" fill="#3c6ea6" stroke="#3c6ea6" stroke-width="0.2" font-weight="normal" font-style="normal" >Resistance</text>
<text x="133.30" y="814.30" font-size="8.6" text-anchor="middle" fill="#222" stroke="#222" stroke-width="0.2" font-weight="normal" font-style="normal" >Log odds ratio</text>
<text x="199.30" y="814.30" font-size="8.5" text-anchor="middle" fill="#a8322d" stroke="#a8322d" stroke-width="0.2" font-weight="normal" font-style="normal" >Sensitizing</text>
<text x="30.20" y="639.20" font-size="8.0" text-anchor="start" fill="#222" stroke="#222" stroke-width="0.2" font-weight="normal" font-style="normal" ><tspan font-style="italic">P</tspan> = 0.05</text>
<text x="30.20" y="671.40" font-size="8.0" text-anchor="start" fill="#222" stroke="#222" stroke-width="0.2" font-weight="normal" font-style="normal" ><tspan font-style="italic">P</tspan> = 0.1</text>
<circle cx="33.8" cy="608.8" r="3.85" fill="#1f5ea8" stroke="#163d6c" stroke-width="0.75"/>
<circle cx="35.8" cy="684.5" r="3.85" fill="#1f5ea8" stroke="#163d6c" stroke-width="0.75"/>
<circle cx="55.0" cy="677.0" r="3.85" fill="#5c9bd5" stroke="#2d5f8f" stroke-width="0.75"/>
<circle cx="85.6" cy="740.5" r="3.85" fill="#9fc3de" stroke="#3a5673" stroke-width="0.75"/>
<circle cx="86.4" cy="739.3" r="3.85" fill="#9fc3de" stroke="#3a5673" stroke-width="0.75"/>
<circle cx="84.5" cy="759.5" r="3.85" fill="#9cc0dc" stroke="#3a5673" stroke-width="0.75"/>
<circle cx="99.0" cy="764.0" r="3.85" fill="#d2e4ef" stroke="#4a6275" stroke-width="0.75"/>
<circle cx="107.5" cy="782.4" r="3.85" fill="#e6eff5" stroke="#55626b" stroke-width="0.75"/>
<circle cx="119.5" cy="782.4" r="3.85" fill="#f8f9fa" stroke="#666a6e" stroke-width="0.75"/>
<circle cx="125.9" cy="782.4" r="3.85" fill="#fcfcfc" stroke="#6a6a6a" stroke-width="0.75"/>
<circle cx="132.5" cy="782.4" r="3.85" fill="#fef8f5" stroke="#6e6662" stroke-width="0.75"/>
<circle cx="141.2" cy="782.4" r="3.85" fill="#fde8dc" stroke="#7d655a" stroke-width="0.75"/>
<circle cx="138.3" cy="765.6" r="3.85" fill="#fefaf8" stroke="#6b625e" stroke-width="0.75"/>
<circle cx="154.1" cy="762.1" r="3.85" fill="#fad0be" stroke="#8b5a47" stroke-width="0.75"/>
<circle cx="156.1" cy="742.5" r="3.85" fill="#fdece1" stroke="#86685a" stroke-width="0.75"/>
<circle cx="169.7" cy="754.0" r="3.85" fill="#f6aa8a" stroke="#90503a" stroke-width="0.75"/>
<circle cx="166.8" cy="737.6" r="3.85" fill="#f7b99e" stroke="#90573f" stroke-width="0.75"/>
<circle cx="174.0" cy="734.1" r="3.85" fill="#f6b092" stroke="#90503a" stroke-width="0.75"/>
<circle cx="168.3" cy="716.0" r="3.85" fill="#f8c4ae" stroke="#905a45" stroke-width="0.75"/>
<circle cx="199.4" cy="700.6" r="3.85" fill="#e16a4f" stroke="#8a3422" stroke-width="0.75"/>
<circle cx="222.5" cy="624.2" r="3.85" fill="#b2182b" stroke="#6e0d18" stroke-width="0.75"/>
<line x1="146.40" y1="736.70" x2="153.60" y2="740.00" stroke="#444" stroke-width="0.45" />
<line x1="154.60" y1="732.60" x2="155.90" y2="739.60" stroke="#444" stroke-width="0.45" />
<line x1="154.60" y1="747.80" x2="155.70" y2="745.60" stroke="#444" stroke-width="0.45" />
<line x1="88.30" y1="733.60" x2="87.20" y2="735.90" stroke="#444" stroke-width="0.45" />
<text x="40.50" y="611.70" font-size="8.1" text-anchor="start" fill="#111" stroke="#111" stroke-width="0.2" font-weight="normal" font-style="italic" >ARID1A*</text>
<text x="32.00" y="696.20" font-size="8.1" text-anchor="start" fill="#111" stroke="#111" stroke-width="0.2" font-weight="normal" font-style="italic" >RNF43</text>
<text x="60.90" y="683.30" font-size="8.1" text-anchor="start" fill="#111" stroke="#111" stroke-width="0.2" font-weight="normal" font-style="italic" >RPL22</text>
<text x="216.30" y="627.10" font-size="8.1" text-anchor="end" fill="#111" stroke="#111" stroke-width="0.2" font-weight="normal" font-style="italic" >CTCF</text>
<text x="193.80" y="703.30" font-size="8.1" text-anchor="end" fill="#111" stroke="#111" stroke-width="0.2" font-weight="normal" font-style="italic" >BRCA2</text>
<text x="205.00" y="703.30" font-size="8.1" text-anchor="start" fill="#111" stroke="#111" stroke-width="0.2" font-weight="normal" font-style="italic" >PBRM1</text>
<text x="175.00" y="718.40" font-size="8.1" text-anchor="start" fill="#111" stroke="#111" stroke-width="0.2" font-weight="normal" font-style="italic" >KMT2B</text>
<text x="141.00" y="729.70" font-size="8.1" text-anchor="start" fill="#111" stroke="#111" stroke-width="0.2" font-weight="normal" font-style="italic" >PIK3CA</text>
<text x="173.50" y="729.70" font-size="8.1" text-anchor="start" fill="#111" stroke="#111" stroke-width="0.2" font-weight="normal" font-style="italic" >TP53</text>
<text x="113.00" y="739.40" font-size="8.1" text-anchor="start" fill="#111" stroke="#111" stroke-width="0.2" font-weight="normal" font-style="italic" >CREBBP</text>
<text x="124.00" y="747.90" font-size="8.1" text-anchor="start" fill="#111" stroke="#111" stroke-width="0.2" font-weight="normal" font-style="italic" >KMT2C</text>
<text x="172.00" y="746.10" font-size="8.1" text-anchor="start" fill="#111" stroke="#111" stroke-width="0.2" font-weight="normal" font-style="italic" >SCRIB</text>
<text x="144.60" y="756.40" font-size="8.1" text-anchor="start" fill="#111" stroke="#111" stroke-width="0.2" font-weight="normal" font-style="italic" >JAK1</text>
<text x="175.80" y="756.50" font-size="8.1" text-anchor="start" fill="#111" stroke="#111" stroke-width="0.2" font-weight="normal" font-style="italic" >PTEN</text>
<text x="160.50" y="767.70" font-size="8.1" text-anchor="start" fill="#111" stroke="#111" stroke-width="0.2" font-weight="normal" font-style="italic" >FAT1</text>
<text x="126.70" y="776.50" font-size="8.1" text-anchor="start" fill="#111" stroke="#111" stroke-width="0.2" font-weight="normal" font-style="italic" >KMT2D</text>
<text x="147.50" y="785.30" font-size="8.1" text-anchor="start" fill="#111" stroke="#111" stroke-width="0.2" font-weight="normal" font-style="italic" >PIK3R1</text>
<text x="85.00" y="730.90" font-size="8.1" text-anchor="start" fill="#111" stroke="#111" stroke-width="0.2" font-weight="normal" font-style="italic" >NF1</text>
<text x="81.00" y="746.10" font-size="8.1" text-anchor="end" fill="#111" stroke="#111" stroke-width="0.2" font-weight="normal" font-style="italic" >SMAD1</text>
<text x="90.50" y="748.10" font-size="8.1" text-anchor="start" fill="#111" stroke="#111" stroke-width="0.2" font-weight="normal" font-style="italic" >MTOR</text>
<text x="79.50" y="761.60" font-size="8.1" text-anchor="end" fill="#111" stroke="#111" stroke-width="0.2" font-weight="normal" font-style="italic" >NOTCH1</text>
<text x="83.80" y="775.10" font-size="8.1" text-anchor="start" fill="#111" stroke="#111" stroke-width="0.2" font-weight="normal" font-style="italic" >ZFHX3</text>
<text x="103.00" y="784.60" font-size="8.1" text-anchor="end" fill="#111" stroke="#111" stroke-width="0.2" font-weight="normal" font-style="italic" >B2M</text>
<text x="252.20" y="585.40" font-size="10.2" text-anchor="start" fill="#111" stroke="#111" stroke-width="0.2" font-weight="bold" font-style="normal" >C</text>
<text x="328.10" y="589.80" font-size="8.9" text-anchor="middle" fill="#111" stroke="#111" stroke-width="0.12" font-weight="bold" font-style="italic" >ARID1A</text>
<rect x="303.80" y="594.00" width="22.40" height="22.40" fill="#e3eff3" shape-rendering="crispEdges"/>
<text x="314.85" y="608.75" font-size="8.6" text-anchor="middle" fill="#222" stroke="#222" stroke-width="0.2" font-weight="normal" font-style="normal" >0</text>
<rect x="325.90" y="594.00" width="22.40" height="22.40" fill="#5e90a4" shape-rendering="crispEdges"/>
<text x="336.95" y="608.75" font-size="8.6" text-anchor="middle" fill="#222" stroke="#222" stroke-width="0.2" font-weight="normal" font-style="normal" >6</text>
<rect x="303.80" y="616.10" width="22.40" height="22.40" fill="#17566b" shape-rendering="crispEdges"/>
<text x="314.85" y="630.85" font-size="8.6" text-anchor="middle" fill="#fff" stroke="#fff" stroke-width="0.2" font-weight="normal" font-style="normal" >10</text>
<rect x="325.90" y="616.10" width="22.40" height="22.40" fill="#2d6e83" shape-rendering="crispEdges"/>
<text x="336.95" y="630.85" font-size="8.6" text-anchor="middle" fill="#fff" stroke="#fff" stroke-width="0.2" font-weight="normal" font-style="normal" >8</text>
<line x1="301.60" y1="605.55" x2="303.80" y2="605.55" stroke="#555" stroke-width="0.8" />
<text x="299.00" y="608.45" font-size="8.6" text-anchor="end" fill="#222" stroke="#222" stroke-width="0.2" font-weight="normal" font-style="normal" >WT</text>
<line x1="301.60" y1="627.65" x2="303.80" y2="627.65" stroke="#555" stroke-width="0.8" />
<text x="299.00" y="630.55" font-size="8.6" text-anchor="end" fill="#222" stroke="#222" stroke-width="0.2" font-weight="normal" font-style="normal" >MUT</text>
<line x1="314.85" y1="638.20" x2="314.85" y2="640.40" stroke="#555" stroke-width="0.8" />
<text x="314.85" y="649.90" font-size="8.6" text-anchor="middle" fill="#222" stroke="#222" stroke-width="0.2" font-weight="normal" font-style="normal" >NR</text>
<line x1="336.95" y1="638.20" x2="336.95" y2="640.40" stroke="#555" stroke-width="0.8" />
<text x="336.95" y="649.90" font-size="8.6" text-anchor="middle" fill="#222" stroke="#222" stroke-width="0.2" font-weight="normal" font-style="normal" >R</text>
<text x="409.80" y="589.80" font-size="8.9" text-anchor="middle" fill="#111" stroke="#111" stroke-width="0.12" font-weight="bold" font-style="italic" >CTCF</text>
<rect x="385.50" y="594.00" width="22.40" height="22.40" fill="#b2191d" shape-rendering="crispEdges"/>
<text x="396.55" y="608.75" font-size="8.6" text-anchor="middle" fill="#fff" stroke="#fff" stroke-width="0.2" font-weight="normal" font-style="normal" >9</text>
<rect x="407.60" y="594.00" width="22.40" height="22.40" fill="#d86668" shape-rendering="crispEdges"/>
<text x="418.65" y="608.75" font-size="8.6" text-anchor="middle" fill="#333" stroke="#333" stroke-width="0.2" font-weight="normal" font-style="normal" >6</text>
<rect x="385.50" y="616.10" width="22.40" height="22.40" fill="#fbecec" shape-rendering="crispEdges"/>
<text x="396.55" y="630.85" font-size="8.6" text-anchor="middle" fill="#222" stroke="#222" stroke-width="0.2" font-weight="normal" font-style="normal" >1</text>
<rect x="407.60" y="616.10" width="22.40" height="22.40" fill="#b81f23" shape-rendering="crispEdges"/>
<text x="418.65" y="630.85" font-size="8.6" text-anchor="middle" fill="#fff" stroke="#fff" stroke-width="0.2" font-weight="normal" font-style="normal" >8</text>
<line x1="383.30" y1="605.55" x2="385.50" y2="605.55" stroke="#555" stroke-width="0.8" />
<text x="380.70" y="608.45" font-size="8.6" text-anchor="end" fill="#222" stroke="#222" stroke-width="0.2" font-weight="normal" font-style="normal" >WT</text>
<line x1="383.30" y1="627.65" x2="385.50" y2="627.65" stroke="#555" stroke-width="0.8" />
<text x="380.70" y="630.55" font-size="8.6" text-anchor="end" fill="#222" stroke="#222" stroke-width="0.2" font-weight="normal" font-style="normal" >MUT</text>
<line x1="396.55" y1="638.20" x2="396.55" y2="640.40" stroke="#555" stroke-width="0.8" />
<text x="396.55" y="649.90" font-size="8.6" text-anchor="middle" fill="#222" stroke="#222" stroke-width="0.2" font-weight="normal" font-style="normal" >NR</text>
<line x1="418.65" y1="638.20" x2="418.65" y2="640.40" stroke="#555" stroke-width="0.8" />
<text x="418.65" y="649.90" font-size="8.6" text-anchor="middle" fill="#222" stroke="#222" stroke-width="0.2" font-weight="normal" font-style="normal" >R</text>
<text x="490.70" y="589.80" font-size="8.9" text-anchor="middle" fill="#111" stroke="#111" stroke-width="0.12" font-weight="bold" font-style="italic" >JAK1</text>
<rect x="466.40" y="594.00" width="22.40" height="22.40" fill="#1c4da1" shape-rendering="crispEdges"/>
<text x="477.45" y="608.75" font-size="8.6" text-anchor="middle" fill="#fff" stroke="#fff" stroke-width="0.2" font-weight="normal" font-style="normal" >7</text>
<rect x="488.50" y="594.00" width="22.40" height="22.40" fill="#1c4da1" shape-rendering="crispEdges"/>
<text x="499.55" y="608.75" font-size="8.6" text-anchor="middle" fill="#fff" stroke="#fff" stroke-width="0.2" font-weight="normal" font-style="normal" >7</text>
<rect x="466.40" y="616.10" width="22.40" height="22.40" fill="#dbe9f5" shape-rendering="crispEdges"/>
<text x="477.45" y="630.85" font-size="8.6" text-anchor="middle" fill="#222" stroke="#222" stroke-width="0.2" font-weight="normal" font-style="normal" >3</text>
<rect x="488.50" y="616.10" width="22.40" height="22.40" fill="#1c4da1" shape-rendering="crispEdges"/>
<text x="499.55" y="630.85" font-size="8.6" text-anchor="middle" fill="#fff" stroke="#fff" stroke-width="0.2" font-weight="normal" font-style="normal" >7</text>
<line x1="464.20" y1="605.55" x2="466.40" y2="605.55" stroke="#555" stroke-width="0.8" />
<text x="461.60" y="608.45" font-size="8.6" text-anchor="end" fill="#222" stroke="#222" stroke-width="0.2" font-weight="normal" font-style="normal" >WT</text>
<line x1="464.20" y1="627.65" x2="466.40" y2="627.65" stroke="#555" stroke-width="0.8" />
<text x="461.60" y="630.55" font-size="8.6" text-anchor="end" fill="#222" stroke="#222" stroke-width="0.2" font-weight="normal" font-style="normal" >MUT</text>
<line x1="477.45" y1="638.20" x2="477.45" y2="640.40" stroke="#555" stroke-width="0.8" />
<text x="477.45" y="649.90" font-size="8.6" text-anchor="middle" fill="#222" stroke="#222" stroke-width="0.2" font-weight="normal" font-style="normal" >NR</text>
<line x1="499.55" y1="638.20" x2="499.55" y2="640.40" stroke="#555" stroke-width="0.8" />
<text x="499.55" y="649.90" font-size="8.6" text-anchor="middle" fill="#222" stroke="#222" stroke-width="0.2" font-weight="normal" font-style="normal" >R</text>
<text x="252.00" y="670.80" font-size="10.2" text-anchor="start" fill="#111" stroke="#111" stroke-width="0.2" font-weight="bold" font-style="normal" >D</text>
<text x="313.30" y="671.20" font-size="8.7" text-anchor="start" fill="#111" stroke="#111" stroke-width="0.12" font-weight="bold" font-style="normal" ><tspan font-style="italic">JAK1</tspan> mutations (pretreat vs. posttreat)</text>
<rect x="285.00" y="675.60" width="231.90" height="151.20" fill="#fff" />
<line x1="296.05" y1="675.60" x2="296.05" y2="826.80" stroke="#efefef" stroke-width="0.7" />
<line x1="313.68" y1="675.60" x2="313.68" y2="826.80" stroke="#efefef" stroke-width="0.7" />
<line x1="331.31" y1="675.60" x2="331.31" y2="826.80" stroke="#efefef" stroke-width="0.7" />
<line x1="348.94" y1="675.60" x2="348.94" y2="826.80" stroke="#efefef" stroke-width="0.7" />
<line x1="366.57" y1="675.60" x2="366.57" y2="826.80" stroke="#efefef" stroke-width="0.7" />
<line x1="384.20" y1="675.60" x2="384.20" y2="826.80" stroke="#efefef" stroke-width="0.7" />
<line x1="401.83" y1="675.60" x2="401.83" y2="826.80" stroke="#efefef" stroke-width="0.7" />
<line x1="419.46" y1="675.60" x2="419.46" y2="826.80" stroke="#efefef" stroke-width="0.7" />
<line x1="437.09" y1="675.60" x2="437.09" y2="826.80" stroke="#efefef" stroke-width="0.7" />
<line x1="454.72" y1="675.60" x2="454.72" y2="826.80" stroke="#efefef" stroke-width="0.7" />
<line x1="472.35" y1="675.60" x2="472.35" y2="826.80" stroke="#efefef" stroke-width="0.7" />
<line x1="489.98" y1="675.60" x2="489.98" y2="826.80" stroke="#efefef" stroke-width="0.7" />
<line x1="507.61" y1="675.60" x2="507.61" y2="826.80" stroke="#efefef" stroke-width="0.7" />
<line x1="285.00" y1="819.90" x2="516.90" y2="819.90" stroke="#efefef" stroke-width="0.7" />
<line x1="285.00" y1="785.65" x2="516.90" y2="785.65" stroke="#efefef" stroke-width="0.7" />
<line x1="285.00" y1="751.40" x2="516.90" y2="751.40" stroke="#efefef" stroke-width="0.7" />
<line x1="285.00" y1="717.15" x2="516.90" y2="717.15" stroke="#efefef" stroke-width="0.7" />
<line x1="285.00" y1="682.90" x2="516.90" y2="682.90" stroke="#efefef" stroke-width="0.7" />
<line x1="285.00" y1="802.77" x2="516.90" y2="802.77" stroke="#f4f4f4" stroke-width="0.5" />
<line x1="285.00" y1="768.52" x2="516.90" y2="768.52" stroke="#f4f4f4" stroke-width="0.5" />
<line x1="285.00" y1="734.27" x2="516.90" y2="734.27" stroke="#f4f4f4" stroke-width="0.5" />
<line x1="285.00" y1="700.02" x2="516.90" y2="700.02" stroke="#f4f4f4" stroke-width="0.5" />
<line x1="313.30" y1="819.90" x2="313.30" y2="693.20" stroke="#9a9a9a" stroke-width="0.6" />
<polyline points="310.60,695.60 313.30,693.20 316.00,695.60" fill="none" stroke="#777" stroke-width="0.7"/>
<line x1="344.80" y1="819.90" x2="344.80" y2="688.60" stroke="#9a9a9a" stroke-width="0.6" />
<polyline points="342.10,691.00 344.80,688.60 347.50,691.00" fill="none" stroke="#777" stroke-width="0.7"/>
<line x1="352.30" y1="819.90" x2="352.30" y2="688.60" stroke="#9a9a9a" stroke-width="0.6" />
<polyline points="349.60,691.00 352.30,688.60 355.00,691.00" fill="none" stroke="#777" stroke-width="0.7"/>
<line x1="401.60" y1="819.90" x2="401.60" y2="688.30" stroke="#9a9a9a" stroke-width="0.6" />
<polyline points="398.90,690.70 401.60,688.30 404.30,690.70" fill="none" stroke="#777" stroke-width="0.7"/>
<line x1="437.10" y1="772.40" x2="437.10" y2="816.80" stroke="#9a9a9a" stroke-width="0.6" />
<polyline points="434.40,814.40 437.10,816.80 439.80,814.40" fill="none" stroke="#777" stroke-width="0.7"/>
<circle cx="294.0" cy="691.0" r="1.85" fill="#6b3d90"/>
<circle cx="297.7" cy="691.0" r="1.85" fill="#6b3d90"/>
<circle cx="313.3" cy="819.9" r="1.85" fill="#6b3d90"/>
<circle cx="313.3" cy="688.5" r="1.85" fill="#15894a"/>
<circle cx="330.8" cy="682.9" r="1.85" fill="#6b3d90"/>
<circle cx="330.8" cy="686.5" r="1.85" fill="#15894a"/>
<circle cx="344.8" cy="819.9" r="1.85" fill="#6b3d90"/>
<circle cx="352.3" cy="819.9" r="1.85" fill="#6b3d90"/>
<circle cx="344.8" cy="684.5" r="1.85" fill="#15894a"/>
<circle cx="352.3" cy="684.5" r="1.85" fill="#15894a"/>
<circle cx="365.0" cy="760.2" r="1.85" fill="#6b3d90"/>
<circle cx="368.6" cy="760.2" r="1.85" fill="#6b3d90"/>
<circle cx="383.9" cy="687.2" r="1.85" fill="#6b3d90"/>
<circle cx="401.6" cy="819.9" r="1.85" fill="#6b3d90"/>
<circle cx="401.6" cy="684.5" r="1.85" fill="#15894a"/>
<circle cx="417.7" cy="686.9" r="1.85" fill="#6b3d90"/>
<circle cx="421.2" cy="686.9" r="1.85" fill="#6b3d90"/>
<circle cx="437.1" cy="772.4" r="1.85" fill="#6b3d90"/>
<circle cx="437.1" cy="819.9" r="1.85" fill="#15894a"/>
<circle cx="453.0" cy="733.2" r="1.85" fill="#6b3d90"/>
<circle cx="456.7" cy="733.2" r="1.85" fill="#6b3d90"/>
<circle cx="470.7" cy="697.2" r="1.85" fill="#6b3d90"/>
<circle cx="474.3" cy="697.2" r="1.85" fill="#6b3d90"/>
<circle cx="486.4" cy="682.9" r="1.85" fill="#6b3d90"/>
<circle cx="489.9" cy="686.1" r="1.85" fill="#6b3d90"/>
<circle cx="493.6" cy="683.4" r="1.85" fill="#6b3d90"/>
<circle cx="507.6" cy="693.9" r="1.85" fill="#6b3d90"/>
<rect x="285.00" y="675.60" width="231.90" height="151.20" fill="none" stroke="#333" stroke-width="1"/>
<line x1="282.40" y1="819.90" x2="285.00" y2="819.90" stroke="#333" stroke-width="0.8" />
<text x="279.70" y="823.00" font-size="8.6" text-anchor="end" fill="#222" stroke="#222" stroke-width="0.2" font-weight="normal" font-style="normal" >0.00</text>
<line x1="282.40" y1="785.65" x2="285.00" y2="785.65" stroke="#333" stroke-width="0.8" />
<text x="279.70" y="788.75" font-size="8.6" text-anchor="end" fill="#222" stroke="#222" stroke-width="0.2" font-weight="normal" font-style="normal" >0.25</text>
<line x1="282.40" y1="751.40" x2="285.00" y2="751.40" stroke="#333" stroke-width="0.8" />
<text x="279.70" y="754.50" font-size="8.6" text-anchor="end" fill="#222" stroke="#222" stroke-width="0.2" font-weight="normal" font-style="normal" >0.50</text>
<line x1="282.40" y1="717.15" x2="285.00" y2="717.15" stroke="#333" stroke-width="0.8" />
<text x="279.70" y="720.25" font-size="8.6" text-anchor="end" fill="#222" stroke="#222" stroke-width="0.2" font-weight="normal" font-style="normal" >0.75</text>
<line x1="282.40" y1="682.90" x2="285.00" y2="682.90" stroke="#333" stroke-width="0.8" />
<text x="279.70" y="686.00" font-size="8.6" text-anchor="end" fill="#222" stroke="#222" stroke-width="0.2" font-weight="normal" font-style="normal" >1.00</text>
<line x1="296.05" y1="826.80" x2="296.05" y2="829.20" stroke="#333" stroke-width="0.8" />
<line x1="313.68" y1="826.80" x2="313.68" y2="829.20" stroke="#333" stroke-width="0.8" />
<line x1="331.31" y1="826.80" x2="331.31" y2="829.20" stroke="#333" stroke-width="0.8" />
<line x1="348.94" y1="826.80" x2="348.94" y2="829.20" stroke="#333" stroke-width="0.8" />
<line x1="366.57" y1="826.80" x2="366.57" y2="829.20" stroke="#333" stroke-width="0.8" />
<line x1="384.20" y1="826.80" x2="384.20" y2="829.20" stroke="#333" stroke-width="0.8" />
<line x1="401.83" y1="826.80" x2="401.83" y2="829.20" stroke="#333" stroke-width="0.8" />
<line x1="419.46" y1="826.80" x2="419.46" y2="829.20" stroke="#333" stroke-width="0.8" />
<line x1="437.09" y1="826.80" x2="437.09" y2="829.20" stroke="#333" stroke-width="0.8" />
<line x1="454.72" y1="826.80" x2="454.72" y2="829.20" stroke="#333" stroke-width="0.8" />
<line x1="472.35" y1="826.80" x2="472.35" y2="829.20" stroke="#333" stroke-width="0.8" />
<line x1="489.98" y1="826.80" x2="489.98" y2="829.20" stroke="#333" stroke-width="0.8" />
<line x1="507.61" y1="826.80" x2="507.61" y2="829.20" stroke="#333" stroke-width="0.8" />
<text x="0.00" y="0.00" font-size="8.72" text-anchor="middle" fill="#222" stroke="#222" stroke-width="0.2" font-weight="normal" font-style="normal" transform="translate(257.0,751.5) rotate(-90)">Clustered cancer cell fraction</text>
<rect x="466.20" y="798.00" width="47.10" height="24.00" fill="#fff" stroke="#333" stroke-width="0.9"/>
<circle cx="472.0" cy="805.1" r="1.75" fill="#6b3d90"/>
<circle cx="472.0" cy="815.4" r="1.75" fill="#15894a"/>
<text x="476.40" y="808.00" font-size="8.2" text-anchor="start" fill="#222" stroke="#222" stroke-width="0.2" font-weight="normal" font-style="normal" >Pretreat</text>
<text x="476.40" y="818.70" font-size="8.2" text-anchor="start" fill="#222" stroke="#222" stroke-width="0.2" font-weight="normal" font-style="normal" >Posttreat</text>
<rect x="287.00" y="830.50" width="88.30" height="9.50" fill="#a1d2da" />
<rect x="375.20" y="830.50" width="88.40" height="9.50" fill="#fbd475" />
<rect x="463.50" y="830.50" width="53.10" height="9.50" fill="#ef7b7c" />
<rect x="287.00" y="830.50" width="229.60" height="9.50" fill="none" stroke="#333" stroke-width="1"/>
<text x="0.00" y="0.00" font-size="8.2" text-anchor="end" fill="#222" stroke="#222" stroke-width="0.2" font-weight="normal" font-style="normal" transform="translate(300.35,848.50) rotate(-45)">PEM01</text>
<text x="0.00" y="0.00" font-size="8.2" text-anchor="end" fill="#222" stroke="#222" stroke-width="0.2" font-weight="normal" font-style="normal" transform="translate(317.98,848.50) rotate(-45)">PEM07</text>
<text x="0.00" y="0.00" font-size="8.2" text-anchor="end" fill="#222" stroke="#222" stroke-width="0.2" font-weight="normal" font-style="normal" transform="translate(335.61,848.50) rotate(-45)">PEM09</text>
<text x="0.00" y="0.00" font-size="8.2" text-anchor="end" fill="#222" stroke="#222" stroke-width="0.2" font-weight="normal" font-style="normal" transform="translate(353.24,848.50) rotate(-45)">PEM10</text>
<text x="0.00" y="0.00" font-size="8.2" text-anchor="end" fill="#222" stroke="#222" stroke-width="0.2" font-weight="normal" font-style="normal" transform="translate(370.87,848.50) rotate(-45)">PEM16</text>
<text x="0.00" y="0.00" font-size="8.2" text-anchor="end" fill="#222" stroke="#222" stroke-width="0.2" font-weight="normal" font-style="normal" transform="translate(388.50,848.50) rotate(-45)">PEM11</text>
<text x="0.00" y="0.00" font-size="8.2" text-anchor="end" fill="#222" stroke="#222" stroke-width="0.2" font-weight="normal" font-style="normal" transform="translate(406.13,848.50) rotate(-45)">PEM12</text>
<text x="0.00" y="0.00" font-size="8.2" text-anchor="end" fill="#222" stroke="#222" stroke-width="0.2" font-weight="normal" font-style="normal" transform="translate(423.76,848.50) rotate(-45)">PEM13</text>
<text x="0.00" y="0.00" font-size="8.2" text-anchor="end" fill="#222" stroke="#222" stroke-width="0.2" font-weight="normal" font-style="normal" transform="translate(441.39,848.50) rotate(-45)">PEM19</text>
<text x="0.00" y="0.00" font-size="8.2" text-anchor="end" fill="#222" stroke="#222" stroke-width="0.2" font-weight="normal" font-style="normal" transform="translate(459.02,848.50) rotate(-45)">PEM20</text>
<text x="0.00" y="0.00" font-size="8.2" text-anchor="end" fill="#222" stroke="#222" stroke-width="0.2" font-weight="normal" font-style="normal" transform="translate(476.65,848.50) rotate(-45)">PEM06</text>
<text x="0.00" y="0.00" font-size="8.2" text-anchor="end" fill="#222" stroke="#222" stroke-width="0.2" font-weight="normal" font-style="normal" transform="translate(494.28,848.50) rotate(-45)">PEM23</text>
<text x="0.00" y="0.00" font-size="8.2" text-anchor="end" fill="#222" stroke="#222" stroke-width="0.2" font-weight="normal" font-style="normal" transform="translate(511.91,848.50) rotate(-45)">PEM25</text>
</svg>
</body></html>
